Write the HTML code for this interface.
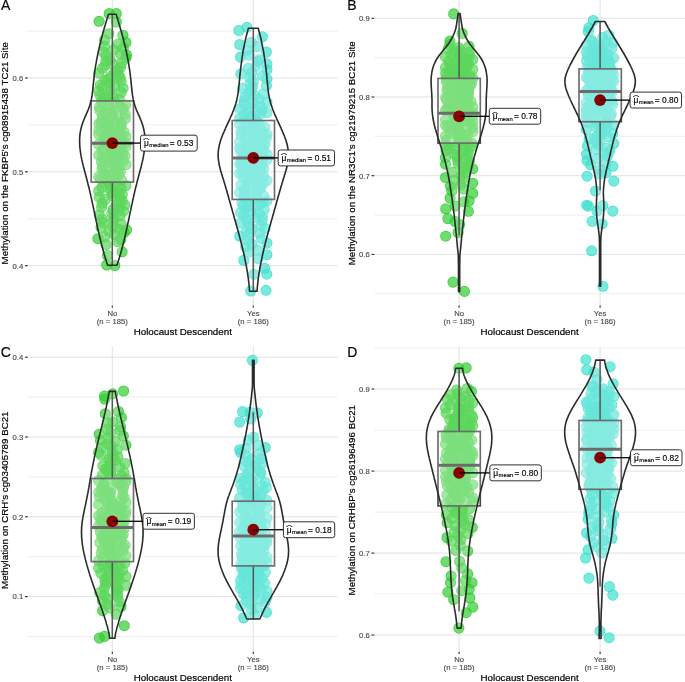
<!DOCTYPE html>
<html lang="en"><head><meta charset="utf-8"><title>Methylation by Holocaust Descendent</title>
<style>html,body{margin:0;padding:0;background:#fff}svg{display:block}</style></head>
<body>
<svg width="685" height="682" viewBox="0 0 685 682" font-family='"Liberation Sans", Arial, Helvetica, sans-serif'>
<rect width="685" height="682" fill="#fff"/>
<defs>
<radialGradient id="pg"><stop offset="0" stop-color="#32cd32" stop-opacity="0.7"/><stop offset="0.80" stop-color="#32cd32" stop-opacity="0.7"/><stop offset="0.86" stop-color="#32cd32" stop-opacity="0.9"/><stop offset="1" stop-color="#32cd32" stop-opacity="0.9"/></radialGradient>
<radialGradient id="pt"><stop offset="0" stop-color="#40e0d0" stop-opacity="0.7"/><stop offset="0.80" stop-color="#40e0d0" stop-opacity="0.7"/><stop offset="0.86" stop-color="#40e0d0" stop-opacity="0.9"/><stop offset="1" stop-color="#40e0d0" stop-opacity="0.9"/></radialGradient>
</defs>
<g id="panelA">
<g stroke="#e0e0e0" stroke-width="0.55" fill="none">
<path d="M27.8 31.1H337.7"/>
<path d="M27.8 124.9H337.7"/>
<path d="M27.8 218.8H337.7"/>
</g>
<g stroke="#dedede" stroke-width="0.9" fill="none">
<path d="M27.8 78H337.7"/>
<path d="M27.8 171.8H337.7"/>
<path d="M27.8 265.7H337.7"/>
<path d="M112.3 0V305.6"/>
<path d="M253.3 0V305.6"/>
</g>
<g stroke="#2a2a2a" stroke-width="1.1" fill="none">
<path d="M25 78H27.8"/>
<path d="M25 171.8H27.8"/>
<path d="M25 265.7H27.8"/>
<path d="M112.3 305.6V307.8"/>
<path d="M253.3 305.6V307.8"/>
</g>
<g font-size="7.7" fill="#454545" stroke="#454545" stroke-width="0.12">
<text x="23.2" y="80.8" text-anchor="end">0.6</text>
<text x="23.2" y="174.7" text-anchor="end">0.5</text>
<text x="23.2" y="268.5" text-anchor="end">0.4</text>
<text x="112.3" y="315.8" text-anchor="middle">No</text>
<text x="112.3" y="324" text-anchor="middle">(n = 185)</text>
<text x="253.3" y="315.8" text-anchor="middle">Yes</text>
<text x="253.3" y="324" text-anchor="middle">(n = 186)</text>
</g>
<g font-size="9.75" fill="#000" stroke="#000" stroke-width="0.2">
<text x="182.8" y="335.2" text-anchor="middle">Holocaust Descendent</text>
<text transform="translate(8 153.3) rotate(-90)" text-anchor="middle">Methylation on the FKBP5's cg08915438 TC21 Site</text>
</g>
<text x="0.9" y="10.2" font-size="14" fill="#000" stroke="#000" stroke-width="0.15">A</text>
<g fill="url(#pg)">
<circle cx="98.8" cy="73.2" r="5.55"/>
<circle cx="110.3" cy="90.3" r="5.55"/>
<circle cx="115.6" cy="168.4" r="5.55"/>
<circle cx="113.0" cy="226.3" r="5.55"/>
<circle cx="125.6" cy="142.9" r="5.55"/>
<circle cx="101.6" cy="207.2" r="5.55"/>
<circle cx="97.9" cy="238.7" r="5.55"/>
<circle cx="106.0" cy="135.5" r="5.55"/>
<circle cx="102.7" cy="166.1" r="5.55"/>
<circle cx="98.7" cy="155.2" r="5.55"/>
<circle cx="126.5" cy="229.9" r="5.55"/>
<circle cx="119.0" cy="202.1" r="5.55"/>
<circle cx="112.7" cy="154.3" r="5.55"/>
<circle cx="115.9" cy="183.1" r="5.55"/>
<circle cx="125.4" cy="118.4" r="5.55"/>
<circle cx="120.2" cy="215.5" r="5.55"/>
<circle cx="115.6" cy="121.3" r="5.55"/>
<circle cx="98.7" cy="144.4" r="5.55"/>
<circle cx="104.7" cy="40.2" r="5.55"/>
<circle cx="99.1" cy="123.5" r="5.55"/>
<circle cx="101.8" cy="101.6" r="5.55"/>
<circle cx="124.1" cy="232.6" r="5.55"/>
<circle cx="109.0" cy="100.0" r="5.55"/>
<circle cx="106.5" cy="127.6" r="5.55"/>
<circle cx="102.1" cy="203.3" r="5.55"/>
<circle cx="106.0" cy="55.8" r="5.55"/>
<circle cx="117.7" cy="241.6" r="5.55"/>
<circle cx="116.3" cy="22.0" r="5.55"/>
<circle cx="108.7" cy="176.2" r="5.55"/>
<circle cx="119.1" cy="99.3" r="5.55"/>
<circle cx="125.9" cy="146.9" r="5.55"/>
<circle cx="110.0" cy="59.5" r="5.55"/>
<circle cx="98.7" cy="190.8" r="5.55"/>
<circle cx="112.1" cy="117.8" r="5.55"/>
<circle cx="99.7" cy="110.4" r="5.55"/>
<circle cx="104.2" cy="148.3" r="5.55"/>
<circle cx="100.6" cy="178.7" r="5.55"/>
<circle cx="117.5" cy="170.2" r="5.55"/>
<circle cx="112.3" cy="114.9" r="5.55"/>
<circle cx="118.3" cy="158.7" r="5.55"/>
<circle cx="124.8" cy="205.0" r="5.55"/>
<circle cx="125.9" cy="58.0" r="5.55"/>
<circle cx="119.2" cy="229.4" r="5.55"/>
<circle cx="119.3" cy="167.4" r="5.55"/>
<circle cx="117.6" cy="69.8" r="5.55"/>
<circle cx="124.1" cy="132.2" r="5.55"/>
<circle cx="106.3" cy="159.1" r="5.55"/>
<circle cx="122.9" cy="35.2" r="5.55"/>
<circle cx="125.2" cy="114.2" r="5.55"/>
<circle cx="101.1" cy="227.4" r="5.55"/>
<circle cx="112.9" cy="163.5" r="5.55"/>
<circle cx="121.6" cy="63.0" r="5.55"/>
<circle cx="112.8" cy="156.8" r="5.55"/>
<circle cx="109.9" cy="109.5" r="5.55"/>
<circle cx="108.5" cy="119.6" r="5.55"/>
<circle cx="106.7" cy="265.0" r="5.55"/>
<circle cx="113.1" cy="209.6" r="5.55"/>
<circle cx="120.4" cy="171.8" r="5.55"/>
<circle cx="112.2" cy="147.5" r="5.55"/>
<circle cx="102.0" cy="169.2" r="5.55"/>
<circle cx="109.5" cy="184.2" r="5.55"/>
<circle cx="123.3" cy="47.9" r="5.55"/>
<circle cx="120.8" cy="239.6" r="5.55"/>
<circle cx="99.5" cy="107.1" r="5.55"/>
<circle cx="116.1" cy="177.8" r="5.55"/>
<circle cx="122.3" cy="200.8" r="5.55"/>
<circle cx="105.1" cy="142.3" r="5.55"/>
<circle cx="115.0" cy="150.3" r="5.55"/>
<circle cx="102.6" cy="120.3" r="5.55"/>
<circle cx="98.7" cy="91.0" r="5.55"/>
<circle cx="123.1" cy="88.2" r="5.55"/>
<circle cx="109.0" cy="94.3" r="5.55"/>
<circle cx="113.3" cy="220.8" r="5.55"/>
<circle cx="107.2" cy="125.0" r="5.55"/>
<circle cx="122.6" cy="153.4" r="5.55"/>
<circle cx="108.7" cy="104.3" r="5.55"/>
<circle cx="112.0" cy="152.8" r="5.55"/>
<circle cx="121.5" cy="180.2" r="5.55"/>
<circle cx="105.0" cy="199.6" r="5.55"/>
<circle cx="118.1" cy="192.4" r="5.55"/>
<circle cx="104.5" cy="46.0" r="5.55"/>
<circle cx="108.8" cy="145.9" r="5.55"/>
<circle cx="120.2" cy="77.6" r="5.55"/>
<circle cx="114.8" cy="265.5" r="5.55"/>
<circle cx="99.2" cy="214.8" r="5.55"/>
<circle cx="98.7" cy="134.3" r="5.55"/>
<circle cx="118.2" cy="44.1" r="5.55"/>
<circle cx="104.8" cy="112.7" r="5.55"/>
<circle cx="110.8" cy="76.3" r="5.55"/>
<circle cx="114.7" cy="71.8" r="5.55"/>
<circle cx="121.2" cy="188.5" r="5.55"/>
<circle cx="99.0" cy="130.2" r="5.55"/>
<circle cx="110.3" cy="190.0" r="5.55"/>
<circle cx="121.0" cy="223.7" r="5.55"/>
<circle cx="123.4" cy="160.5" r="5.55"/>
<circle cx="100.0" cy="95.3" r="5.55"/>
<circle cx="99.2" cy="197.2" r="5.55"/>
<circle cx="110.7" cy="126.9" r="5.55"/>
<circle cx="102.4" cy="68.3" r="5.55"/>
<circle cx="117.8" cy="151.8" r="5.55"/>
<circle cx="120.6" cy="67.3" r="5.55"/>
<circle cx="118.1" cy="116.9" r="5.55"/>
<circle cx="105.1" cy="80.2" r="5.55"/>
<circle cx="114.1" cy="143.7" r="5.55"/>
<circle cx="120.5" cy="53.9" r="5.55"/>
<circle cx="121.2" cy="81.3" r="5.55"/>
<circle cx="120.1" cy="145.5" r="5.55"/>
<circle cx="104.8" cy="236.9" r="5.55"/>
<circle cx="108.4" cy="79.0" r="5.55"/>
<circle cx="116.1" cy="131.0" r="5.55"/>
<circle cx="120.0" cy="134.9" r="5.55"/>
<circle cx="125.9" cy="42.4" r="5.55"/>
<circle cx="104.0" cy="182.4" r="5.55"/>
<circle cx="100.4" cy="84.8" r="5.55"/>
<circle cx="122.1" cy="251.8" r="5.55"/>
<circle cx="120.2" cy="106.4" r="5.55"/>
<circle cx="114.5" cy="234.4" r="5.55"/>
<circle cx="103.4" cy="52.0" r="5.55"/>
<circle cx="103.2" cy="222.5" r="5.55"/>
<circle cx="123.5" cy="211.2" r="5.55"/>
<circle cx="105.0" cy="65.3" r="5.55"/>
<circle cx="105.5" cy="173.7" r="5.55"/>
<circle cx="125.9" cy="185.5" r="5.55"/>
<circle cx="114.6" cy="165.7" r="5.55"/>
<circle cx="109.1" cy="231.3" r="5.55"/>
<circle cx="107.5" cy="255.5" r="5.55"/>
<circle cx="122.3" cy="194.3" r="5.55"/>
<circle cx="118.6" cy="174.8" r="5.55"/>
<circle cx="105.9" cy="61.0" r="5.55"/>
<circle cx="125.5" cy="105.0" r="5.55"/>
<circle cx="102.1" cy="187.5" r="5.55"/>
<circle cx="121.5" cy="123.9" r="5.55"/>
<circle cx="112.7" cy="96.9" r="5.55"/>
<circle cx="103.7" cy="138.1" r="5.55"/>
<circle cx="112.4" cy="63.7" r="5.55"/>
<circle cx="119.0" cy="163.0" r="5.55"/>
<circle cx="120.1" cy="197.9" r="5.55"/>
<circle cx="112.2" cy="112.0" r="5.55"/>
<circle cx="115.7" cy="102.8" r="5.55"/>
<circle cx="120.9" cy="138.8" r="5.55"/>
<circle cx="109.2" cy="180.9" r="5.55"/>
<circle cx="110.0" cy="82.9" r="5.55"/>
<circle cx="99.1" cy="21.3" r="5.55"/>
<circle cx="113.1" cy="172.8" r="5.55"/>
<circle cx="121.3" cy="149.6" r="5.55"/>
<circle cx="102.4" cy="115.9" r="5.55"/>
<circle cx="105.8" cy="170.8" r="5.55"/>
<circle cx="102.3" cy="157.8" r="5.55"/>
<circle cx="118.6" cy="75.1" r="5.55"/>
<circle cx="116.3" cy="13.6" r="5.55"/>
<circle cx="109.2" cy="13.6" r="5.55"/>
<circle cx="112.3" cy="192.8" r="5.55"/>
<circle cx="126.5" cy="55.0" r="5.55"/>
<circle cx="115.8" cy="205.7" r="5.55"/>
<circle cx="101.4" cy="162.1" r="5.55"/>
<circle cx="123.2" cy="108.5" r="5.55"/>
<circle cx="121.1" cy="92.5" r="5.55"/>
<circle cx="125.9" cy="136.7" r="5.55"/>
<circle cx="98.7" cy="176.9" r="5.55"/>
<circle cx="108.0" cy="131.7" r="5.55"/>
<circle cx="119.3" cy="208.4" r="5.55"/>
<circle cx="106.0" cy="244.5" r="5.55"/>
<circle cx="111.6" cy="160.8" r="5.55"/>
<circle cx="121.3" cy="141.0" r="5.55"/>
<circle cx="114.1" cy="217.6" r="5.55"/>
<circle cx="102.0" cy="150.9" r="5.55"/>
<circle cx="125.0" cy="155.9" r="5.55"/>
<circle cx="120.4" cy="128.1" r="5.55"/>
<circle cx="111.9" cy="213.4" r="5.55"/>
<circle cx="110.7" cy="137.4" r="5.55"/>
<circle cx="108.9" cy="33.7" r="5.55"/>
<circle cx="112.1" cy="195.6" r="5.55"/>
<circle cx="102.2" cy="87.2" r="5.55"/>
<circle cx="103.3" cy="98.0" r="5.55"/>
<circle cx="120.4" cy="125.7" r="5.55"/>
<circle cx="113.6" cy="49.9" r="5.55"/>
<circle cx="114.6" cy="85.7" r="5.55"/>
<circle cx="106.5" cy="139.7" r="5.55"/>
<circle cx="125.9" cy="164.5" r="5.55"/>
<circle cx="112.7" cy="133.1" r="5.55"/>
<circle cx="105.3" cy="140.4" r="5.55"/>
<circle cx="102.2" cy="219.0" r="5.55"/>
<circle cx="113.3" cy="186.5" r="5.55"/>
<circle cx="101.3" cy="122.1" r="5.55"/>
<circle cx="109.7" cy="129.4" r="5.55"/>
</g>
<g stroke="#484848" stroke-width="1.65" fill="none">
<path d="M112.3 14.2V100.9M112.3 182.1V265.3" stroke="#303030" stroke-width="1.55"/>
<rect x="91.2" y="100.9" width="42.3" height="81.2" fill="#fff" fill-opacity="0.2"/>
<path d="M91.2 143.2H133.4" stroke-width="3.0"/>
</g>
<path d="M108.5 14.2 L108.0 15.7 L107.6 17.2 L107.1 18.7 L106.6 20.2 L106.2 21.7 L105.7 23.2 L105.3 24.7 L104.8 26.2 L104.4 27.7 L104.0 29.2 L103.5 30.7 L103.1 32.2 L102.7 33.7 L102.3 35.2 L101.9 36.7 L101.5 38.2 L101.1 39.7 L100.8 41.2 L100.4 42.7 L100.0 44.2 L99.7 45.7 L99.3 47.2 L99.0 48.7 L98.6 50.2 L98.3 51.7 L98.0 53.2 L97.7 54.7 L97.4 56.2 L97.1 57.7 L96.8 59.2 L96.5 60.7 L96.3 62.2 L96.0 63.7 L95.7 65.2 L95.5 66.7 L95.3 68.2 L95.0 69.7 L94.8 71.2 L94.6 72.7 L94.4 74.2 L94.2 75.7 L94.1 77.2 L93.9 78.7 L93.7 80.2 L93.6 81.7 L93.4 83.2 L93.3 84.7 L93.1 86.2 L93.0 87.7 L92.8 89.2 L92.7 90.7 L92.5 92.2 L92.3 93.7 L92.1 95.2 L91.8 96.7 L91.6 98.2 L91.3 99.7 L90.9 101.2 L90.5 102.7 L90.1 104.2 L89.7 105.7 L89.1 107.2 L88.6 108.7 L88.0 110.2 L87.4 111.7 L86.7 113.2 L86.1 114.7 L85.4 116.2 L84.7 117.7 L84.1 119.2 L83.5 120.7 L82.9 122.2 L82.4 123.7 L81.9 125.2 L81.5 126.7 L81.1 128.2 L80.7 129.7 L80.5 131.2 L80.2 132.7 L80.0 134.2 L79.9 135.7 L79.7 137.2 L79.7 138.7 L79.6 140.2 L79.6 141.7 L79.7 143.2 L79.7 144.7 L79.8 146.2 L79.9 147.7 L80.1 149.2 L80.3 150.7 L80.5 152.2 L80.7 153.7 L81.0 155.2 L81.2 156.7 L81.5 158.2 L81.8 159.7 L82.2 161.2 L82.5 162.7 L82.9 164.2 L83.2 165.7 L83.6 167.2 L84.0 168.7 L84.4 170.2 L84.8 171.7 L85.2 173.2 L85.6 174.7 L86.0 176.2 L86.4 177.7 L86.8 179.2 L87.2 180.7 L87.6 182.2 L87.9 183.7 L88.3 185.2 L88.7 186.7 L89.1 188.2 L89.4 189.7 L89.8 191.2 L90.1 192.7 L90.5 194.2 L90.8 195.7 L91.1 197.2 L91.5 198.7 L91.8 200.2 L92.1 201.7 L92.4 203.2 L92.8 204.7 L93.1 206.2 L93.4 207.7 L93.7 209.2 L94.0 210.7 L94.4 212.2 L94.7 213.7 L95.0 215.2 L95.3 216.7 L95.6 218.2 L95.9 219.7 L96.2 221.2 L96.6 222.7 L96.9 224.2 L97.2 225.7 L97.5 227.2 L97.9 228.7 L98.2 230.2 L98.5 231.7 L98.9 233.2 L99.2 234.7 L99.6 236.2 L99.9 237.7 L100.3 239.2 L100.6 240.7 L101.0 242.2 L101.4 243.7 L101.8 245.2 L102.2 246.7 L102.6 248.2 L103.0 249.7 L103.4 251.2 L103.8 252.7 L104.2 254.2 L104.7 255.7 L105.1 257.2 L105.6 258.7 L106.0 260.2 L106.5 261.7 L107.0 263.2 L107.5 264.7 L107.7 265.3 L116.9 265.3 L117.1 264.7 L117.6 263.2 L118.1 261.7 L118.6 260.2 L119.0 258.7 L119.5 257.2 L119.9 255.7 L120.4 254.2 L120.8 252.7 L121.2 251.2 L121.6 249.7 L122.0 248.2 L122.4 246.7 L122.8 245.2 L123.2 243.7 L123.6 242.2 L124.0 240.7 L124.3 239.2 L124.7 237.7 L125.0 236.2 L125.4 234.7 L125.7 233.2 L126.1 231.7 L126.4 230.2 L126.7 228.7 L127.1 227.2 L127.4 225.7 L127.7 224.2 L128.0 222.7 L128.4 221.2 L128.7 219.7 L129.0 218.2 L129.3 216.7 L129.6 215.2 L129.9 213.7 L130.2 212.2 L130.6 210.7 L130.9 209.2 L131.2 207.7 L131.5 206.2 L131.8 204.7 L132.2 203.2 L132.5 201.7 L132.8 200.2 L133.1 198.7 L133.5 197.2 L133.8 195.7 L134.1 194.2 L134.5 192.7 L134.8 191.2 L135.2 189.7 L135.5 188.2 L135.9 186.7 L136.3 185.2 L136.7 183.7 L137.0 182.2 L137.4 180.7 L137.8 179.2 L138.2 177.7 L138.6 176.2 L139.0 174.7 L139.4 173.2 L139.8 171.7 L140.2 170.2 L140.6 168.7 L141.0 167.2 L141.4 165.7 L141.7 164.2 L142.1 162.7 L142.4 161.2 L142.8 159.7 L143.1 158.2 L143.4 156.7 L143.6 155.2 L143.9 153.7 L144.1 152.2 L144.3 150.7 L144.5 149.2 L144.7 147.7 L144.8 146.2 L144.9 144.7 L144.9 143.2 L145.0 141.7 L145.0 140.2 L144.9 138.7 L144.9 137.2 L144.7 135.7 L144.6 134.2 L144.4 132.7 L144.1 131.2 L143.9 129.7 L143.5 128.2 L143.1 126.7 L142.7 125.2 L142.2 123.7 L141.7 122.2 L141.1 120.7 L140.5 119.2 L139.9 117.7 L139.2 116.2 L138.5 114.7 L137.9 113.2 L137.2 111.7 L136.6 110.2 L136.0 108.7 L135.5 107.2 L134.9 105.7 L134.5 104.2 L134.1 102.7 L133.7 101.2 L133.3 99.7 L133.0 98.2 L132.8 96.7 L132.5 95.2 L132.3 93.7 L132.1 92.2 L131.9 90.7 L131.8 89.2 L131.6 87.7 L131.5 86.2 L131.3 84.7 L131.2 83.2 L131.0 81.7 L130.9 80.2 L130.7 78.7 L130.5 77.2 L130.4 75.7 L130.2 74.2 L130.0 72.7 L129.8 71.2 L129.6 69.7 L129.3 68.2 L129.1 66.7 L128.9 65.2 L128.6 63.7 L128.3 62.2 L128.1 60.7 L127.8 59.2 L127.5 57.7 L127.2 56.2 L126.9 54.7 L126.6 53.2 L126.3 51.7 L126.0 50.2 L125.6 48.7 L125.3 47.2 L124.9 45.7 L124.6 44.2 L124.2 42.7 L123.8 41.2 L123.5 39.7 L123.1 38.2 L122.7 36.7 L122.3 35.2 L121.9 33.7 L121.5 32.2 L121.1 30.7 L120.6 29.2 L120.2 27.7 L119.8 26.2 L119.3 24.7 L118.9 23.2 L118.4 21.7 L118.0 20.2 L117.5 18.7 L117.0 17.2 L116.6 15.7 L116.1 14.2 Z" fill="#fff" fill-opacity="0.2" stroke="#2b2b2b" stroke-width="1.6" stroke-linejoin="round"/>
<circle cx="112.3" cy="143.1" r="5.9" fill="#8b0000"/>
<path d="M112.3 143.1H140.5" stroke="#000" stroke-width="1.3" fill="none"/>
<rect x="140.5" y="135.2" width="56.7" height="15.9" rx="2.2" fill="#fff" stroke="#262626" stroke-width="0.95"/>
<text x="143.9" y="146.1" font-size="8.4" fill="#000" stroke="#000" stroke-width="0.15">μ<tspan font-size="5.9" dx="0.4" dy="1.2">median</tspan><tspan dx="-1" dy="-1.2"> = 0.53</tspan></text>
<text transform="translate(146.3 142.3) scale(2.15 0.8)" font-size="7" fill="#000" text-anchor="middle">^</text>
<g fill="url(#pt)">
<circle cx="260.1" cy="124.7" r="5.55"/>
<circle cx="244.4" cy="194.2" r="5.55"/>
<circle cx="266.4" cy="138.3" r="5.55"/>
<circle cx="256.9" cy="46.5" r="5.55"/>
<circle cx="250.2" cy="83.8" r="5.55"/>
<circle cx="239.7" cy="142.0" r="5.55"/>
<circle cx="260.8" cy="187.9" r="5.55"/>
<circle cx="257.6" cy="61.4" r="5.55"/>
<circle cx="248.8" cy="252.0" r="5.55"/>
<circle cx="263.7" cy="168.4" r="5.55"/>
<circle cx="248.6" cy="111.7" r="5.55"/>
<circle cx="251.7" cy="72.8" r="5.55"/>
<circle cx="239.7" cy="163.8" r="5.55"/>
<circle cx="254.7" cy="96.1" r="5.55"/>
<circle cx="261.0" cy="166.0" r="5.55"/>
<circle cx="252.8" cy="170.4" r="5.55"/>
<circle cx="255.3" cy="116.3" r="5.55"/>
<circle cx="251.0" cy="196.7" r="5.55"/>
<circle cx="259.8" cy="129.5" r="5.55"/>
<circle cx="255.1" cy="143.8" r="5.55"/>
<circle cx="254.4" cy="207.4" r="5.55"/>
<circle cx="259.2" cy="59.8" r="5.55"/>
<circle cx="251.6" cy="174.8" r="5.55"/>
<circle cx="266.9" cy="243.1" r="5.55"/>
<circle cx="263.6" cy="183.0" r="5.55"/>
<circle cx="245.9" cy="146.0" r="5.55"/>
<circle cx="240.6" cy="212.5" r="5.55"/>
<circle cx="259.5" cy="233.5" r="5.55"/>
<circle cx="241.9" cy="171.6" r="5.55"/>
<circle cx="260.4" cy="156.1" r="5.55"/>
<circle cx="249.6" cy="137.4" r="5.55"/>
<circle cx="266.9" cy="63.9" r="5.55"/>
<circle cx="263.2" cy="132.0" r="5.55"/>
<circle cx="249.8" cy="154.9" r="5.55"/>
<circle cx="257.9" cy="250.1" r="5.55"/>
<circle cx="263.6" cy="176.2" r="5.55"/>
<circle cx="265.0" cy="228.4" r="5.55"/>
<circle cx="251.8" cy="244.2" r="5.55"/>
<circle cx="253.8" cy="122.6" r="5.55"/>
<circle cx="266.8" cy="274.2" r="5.55"/>
<circle cx="266.9" cy="254.7" r="5.55"/>
<circle cx="246.3" cy="231.5" r="5.55"/>
<circle cx="239.7" cy="123.9" r="5.55"/>
<circle cx="240.9" cy="73.8" r="5.55"/>
<circle cx="257.2" cy="121.9" r="5.55"/>
<circle cx="255.1" cy="217.5" r="5.55"/>
<circle cx="262.1" cy="162.3" r="5.55"/>
<circle cx="246.6" cy="120.6" r="5.55"/>
<circle cx="238.9" cy="30.5" r="5.55"/>
<circle cx="266.9" cy="102.2" r="5.55"/>
<circle cx="248.9" cy="205.1" r="5.55"/>
<circle cx="259.8" cy="152.7" r="5.55"/>
<circle cx="247.0" cy="221.5" r="5.55"/>
<circle cx="252.6" cy="86.7" r="5.55"/>
<circle cx="253.7" cy="166.5" r="5.55"/>
<circle cx="266.9" cy="112.6" r="5.55"/>
<circle cx="257.6" cy="186.1" r="5.55"/>
<circle cx="247.7" cy="117.9" r="5.55"/>
<circle cx="250.0" cy="226.4" r="5.55"/>
<circle cx="247.3" cy="235.3" r="5.55"/>
<circle cx="243.1" cy="167.2" r="5.55"/>
<circle cx="266.9" cy="200.8" r="5.55"/>
<circle cx="244.3" cy="100.7" r="5.55"/>
<circle cx="252.4" cy="173.1" r="5.55"/>
<circle cx="266.9" cy="180.3" r="5.55"/>
<circle cx="258.9" cy="213.5" r="5.55"/>
<circle cx="252.1" cy="229.2" r="5.55"/>
<circle cx="244.0" cy="115.0" r="5.55"/>
<circle cx="239.7" cy="44.5" r="5.55"/>
<circle cx="239.7" cy="236.1" r="5.55"/>
<circle cx="261.8" cy="179.0" r="5.55"/>
<circle cx="259.3" cy="188.7" r="5.55"/>
<circle cx="255.0" cy="127.5" r="5.55"/>
<circle cx="251.4" cy="42.3" r="5.55"/>
<circle cx="248.6" cy="186.6" r="5.55"/>
<circle cx="258.8" cy="99.0" r="5.55"/>
<circle cx="253.4" cy="81.5" r="5.55"/>
<circle cx="247.5" cy="240.4" r="5.55"/>
<circle cx="260.2" cy="113.8" r="5.55"/>
<circle cx="257.8" cy="151.1" r="5.55"/>
<circle cx="246.9" cy="50.3" r="5.55"/>
<circle cx="263.9" cy="150.3" r="5.55"/>
<circle cx="243.2" cy="128.8" r="5.55"/>
<circle cx="266.0" cy="290.3" r="5.55"/>
<circle cx="252.0" cy="141.1" r="5.55"/>
<circle cx="240.7" cy="151.6" r="5.55"/>
<circle cx="248.1" cy="68.3" r="5.55"/>
<circle cx="261.9" cy="110.3" r="5.55"/>
<circle cx="255.8" cy="134.9" r="5.55"/>
<circle cx="263.1" cy="202.2" r="5.55"/>
<circle cx="266.9" cy="69.7" r="5.55"/>
<circle cx="240.6" cy="223.0" r="5.55"/>
<circle cx="248.5" cy="125.7" r="5.55"/>
<circle cx="266.4" cy="52.1" r="5.55"/>
<circle cx="254.6" cy="176.8" r="5.55"/>
<circle cx="264.6" cy="268.3" r="5.55"/>
<circle cx="247.0" cy="27.3" r="5.55"/>
<circle cx="261.2" cy="225.3" r="5.55"/>
<circle cx="266.9" cy="134.2" r="5.55"/>
<circle cx="250.9" cy="210.9" r="5.55"/>
<circle cx="262.4" cy="36.8" r="5.55"/>
<circle cx="259.9" cy="149.1" r="5.55"/>
<circle cx="240.8" cy="131.6" r="5.55"/>
<circle cx="263.2" cy="94.0" r="5.55"/>
<circle cx="266.7" cy="159.9" r="5.55"/>
<circle cx="246.7" cy="182.3" r="5.55"/>
<circle cx="250.8" cy="107.7" r="5.55"/>
<circle cx="263.6" cy="195.9" r="5.55"/>
<circle cx="242.6" cy="88.4" r="5.55"/>
<circle cx="249.6" cy="179.4" r="5.55"/>
<circle cx="264.2" cy="209.7" r="5.55"/>
<circle cx="256.1" cy="66.1" r="5.55"/>
<circle cx="239.7" cy="148.2" r="5.55"/>
<circle cx="243.4" cy="177.9" r="5.55"/>
<circle cx="243.1" cy="157.5" r="5.55"/>
<circle cx="255.3" cy="138.8" r="5.55"/>
<circle cx="239.7" cy="173.5" r="5.55"/>
<circle cx="266.9" cy="154.0" r="5.55"/>
<circle cx="249.9" cy="77.6" r="5.55"/>
<circle cx="260.8" cy="169.6" r="5.55"/>
<circle cx="261.3" cy="140.7" r="5.55"/>
<circle cx="247.4" cy="147.5" r="5.55"/>
<circle cx="249.2" cy="175.2" r="5.55"/>
<circle cx="239.7" cy="118.3" r="5.55"/>
<circle cx="242.0" cy="203.0" r="5.55"/>
<circle cx="247.6" cy="184.1" r="5.55"/>
<circle cx="243.2" cy="155.6" r="5.55"/>
<circle cx="241.7" cy="161.3" r="5.55"/>
<circle cx="244.4" cy="189.8" r="5.55"/>
<circle cx="264.5" cy="136.6" r="5.55"/>
<circle cx="257.2" cy="181.5" r="5.55"/>
<circle cx="246.4" cy="219.2" r="5.55"/>
<circle cx="257.2" cy="198.8" r="5.55"/>
<circle cx="257.5" cy="142.6" r="5.55"/>
<circle cx="253.6" cy="156.7" r="5.55"/>
<circle cx="239.7" cy="192.7" r="5.55"/>
<circle cx="257.8" cy="172.0" r="5.55"/>
<circle cx="257.2" cy="190.5" r="5.55"/>
<circle cx="241.1" cy="184.9" r="5.55"/>
<circle cx="239.7" cy="108.7" r="5.55"/>
<circle cx="262.2" cy="220.5" r="5.55"/>
<circle cx="248.9" cy="92.6" r="5.55"/>
<circle cx="256.6" cy="193.4" r="5.55"/>
<circle cx="248.0" cy="169.1" r="5.55"/>
<circle cx="258.0" cy="258.7" r="5.55"/>
<circle cx="243.6" cy="215.3" r="5.55"/>
<circle cx="240.5" cy="57.1" r="5.55"/>
<circle cx="241.3" cy="135.4" r="5.55"/>
<circle cx="247.4" cy="163.0" r="5.55"/>
<circle cx="244.4" cy="104.6" r="5.55"/>
<circle cx="246.1" cy="140.0" r="5.55"/>
<circle cx="243.8" cy="260.4" r="5.55"/>
<circle cx="266.9" cy="79.2" r="5.55"/>
<circle cx="262.4" cy="216.8" r="5.55"/>
<circle cx="261.6" cy="238.7" r="5.55"/>
<circle cx="253.2" cy="133.4" r="5.55"/>
<circle cx="264.7" cy="127.0" r="5.55"/>
<circle cx="243.0" cy="159.1" r="5.55"/>
<circle cx="245.4" cy="191.7" r="5.55"/>
<circle cx="251.3" cy="90.4" r="5.55"/>
<circle cx="253.6" cy="103.3" r="5.55"/>
<circle cx="247.5" cy="149.7" r="5.55"/>
<circle cx="266.4" cy="85.5" r="5.55"/>
<circle cx="245.0" cy="97.4" r="5.55"/>
<circle cx="241.7" cy="164.9" r="5.55"/>
<circle cx="253.6" cy="274.2" r="5.55"/>
<circle cx="264.8" cy="144.6" r="5.55"/>
<circle cx="246.2" cy="130.4" r="5.55"/>
<circle cx="255.3" cy="119.5" r="5.55"/>
<circle cx="249.2" cy="55.2" r="5.55"/>
<circle cx="245.7" cy="246.8" r="5.55"/>
<circle cx="262.5" cy="75.7" r="5.55"/>
<circle cx="253.9" cy="145.4" r="5.55"/>
<circle cx="255.4" cy="164.3" r="5.55"/>
<circle cx="247.6" cy="153.4" r="5.55"/>
<circle cx="253.2" cy="160.9" r="5.55"/>
<circle cx="248.8" cy="199.6" r="5.55"/>
<circle cx="244.2" cy="197.4" r="5.55"/>
<circle cx="262.2" cy="158.3" r="5.55"/>
<circle cx="250.7" cy="291.0" r="5.55"/>
<circle cx="260.4" cy="204.0" r="5.55"/>
<circle cx="260.4" cy="106.2" r="5.55"/>
<circle cx="246.0" cy="208.6" r="5.55"/>
<circle cx="263.2" cy="146.7" r="5.55"/>
<circle cx="243.4" cy="206.1" r="5.55"/>
</g>
<g stroke="#484848" stroke-width="1.65" fill="none">
<path d="M253.3 28.3V120.5M253.3 199.4V291.3" stroke="#303030" stroke-width="1.55"/>
<rect x="232.2" y="120.5" width="42.3" height="78.9" fill="#fff" fill-opacity="0.2"/>
<path d="M232.2 157.9H274.4" stroke-width="3.0"/>
</g>
<path d="M248.4 28.3 L248.0 29.8 L247.6 31.3 L247.2 32.8 L246.8 34.3 L246.4 35.8 L246.0 37.3 L245.7 38.8 L245.3 40.3 L245.0 41.8 L244.7 43.3 L244.4 44.8 L244.1 46.3 L243.8 47.8 L243.5 49.3 L243.2 50.8 L242.9 52.3 L242.7 53.8 L242.5 55.3 L242.2 56.8 L242.0 58.3 L241.8 59.8 L241.6 61.3 L241.4 62.8 L241.2 64.3 L241.0 65.8 L240.8 67.3 L240.6 68.8 L240.5 70.3 L240.3 71.8 L240.1 73.3 L240.0 74.8 L239.8 76.3 L239.7 77.8 L239.6 79.3 L239.4 80.8 L239.3 82.3 L239.1 83.8 L239.0 85.3 L238.8 86.8 L238.7 88.3 L238.5 89.8 L238.3 91.3 L238.1 92.8 L237.9 94.3 L237.6 95.8 L237.3 97.3 L237.0 98.8 L236.7 100.3 L236.3 101.8 L235.9 103.3 L235.4 104.8 L234.9 106.3 L234.4 107.8 L233.9 109.3 L233.3 110.8 L232.7 112.3 L232.1 113.8 L231.4 115.3 L230.7 116.8 L230.1 118.3 L229.4 119.8 L228.7 121.3 L228.0 122.8 L227.3 124.3 L226.6 125.8 L225.9 127.3 L225.3 128.8 L224.6 130.3 L224.0 131.8 L223.3 133.3 L222.7 134.8 L222.1 136.3 L221.6 137.8 L221.0 139.3 L220.5 140.8 L220.1 142.3 L219.7 143.8 L219.3 145.3 L219.0 146.8 L218.7 148.3 L218.5 149.8 L218.3 151.3 L218.2 152.8 L218.1 154.3 L218.1 155.8 L218.2 157.3 L218.3 158.8 L218.5 160.3 L218.7 161.8 L219.0 163.3 L219.2 164.8 L219.6 166.3 L219.9 167.8 L220.3 169.3 L220.7 170.8 L221.2 172.3 L221.6 173.8 L222.1 175.3 L222.5 176.8 L223.0 178.3 L223.5 179.8 L223.9 181.3 L224.4 182.8 L224.8 184.3 L225.3 185.8 L225.7 187.3 L226.1 188.8 L226.6 190.3 L227.0 191.8 L227.4 193.3 L227.9 194.8 L228.3 196.3 L228.7 197.8 L229.1 199.3 L229.6 200.8 L230.0 202.3 L230.4 203.8 L230.8 205.3 L231.2 206.8 L231.7 208.3 L232.1 209.8 L232.5 211.3 L232.9 212.8 L233.4 214.3 L233.8 215.8 L234.2 217.3 L234.6 218.8 L235.1 220.3 L235.5 221.8 L235.9 223.3 L236.3 224.8 L236.7 226.3 L237.2 227.8 L237.6 229.3 L238.0 230.8 L238.4 232.3 L238.8 233.8 L239.2 235.3 L239.6 236.8 L240.0 238.3 L240.4 239.8 L240.8 241.3 L241.2 242.8 L241.5 244.3 L241.9 245.8 L242.3 247.3 L242.6 248.8 L243.0 250.3 L243.3 251.8 L243.7 253.3 L244.0 254.8 L244.4 256.3 L244.7 257.8 L245.0 259.3 L245.3 260.8 L245.6 262.3 L245.9 263.8 L246.2 265.3 L246.5 266.8 L246.7 268.3 L247.0 269.8 L247.2 271.3 L247.5 272.8 L247.7 274.3 L247.9 275.8 L248.2 277.3 L248.4 278.8 L248.5 280.3 L248.7 281.8 L248.9 283.3 L249.0 284.8 L249.2 286.3 L249.3 287.8 L249.4 289.3 L249.5 290.8 L249.6 291.3 L257.0 291.3 L257.1 290.8 L257.2 289.3 L257.3 287.8 L257.4 286.3 L257.6 284.8 L257.7 283.3 L257.9 281.8 L258.1 280.3 L258.2 278.8 L258.4 277.3 L258.7 275.8 L258.9 274.3 L259.1 272.8 L259.4 271.3 L259.6 269.8 L259.9 268.3 L260.1 266.8 L260.4 265.3 L260.7 263.8 L261.0 262.3 L261.3 260.8 L261.6 259.3 L261.9 257.8 L262.2 256.3 L262.6 254.8 L262.9 253.3 L263.3 251.8 L263.6 250.3 L264.0 248.8 L264.3 247.3 L264.7 245.8 L265.1 244.3 L265.4 242.8 L265.8 241.3 L266.2 239.8 L266.6 238.3 L267.0 236.8 L267.4 235.3 L267.8 233.8 L268.2 232.3 L268.6 230.8 L269.0 229.3 L269.4 227.8 L269.9 226.3 L270.3 224.8 L270.7 223.3 L271.1 221.8 L271.5 220.3 L272.0 218.8 L272.4 217.3 L272.8 215.8 L273.2 214.3 L273.7 212.8 L274.1 211.3 L274.5 209.8 L274.9 208.3 L275.4 206.8 L275.8 205.3 L276.2 203.8 L276.6 202.3 L277.0 200.8 L277.5 199.3 L277.9 197.8 L278.3 196.3 L278.7 194.8 L279.2 193.3 L279.6 191.8 L280.0 190.3 L280.5 188.8 L280.9 187.3 L281.3 185.8 L281.8 184.3 L282.2 182.8 L282.7 181.3 L283.1 179.8 L283.6 178.3 L284.1 176.8 L284.5 175.3 L285.0 173.8 L285.4 172.3 L285.9 170.8 L286.3 169.3 L286.7 167.8 L287.0 166.3 L287.4 164.8 L287.6 163.3 L287.9 161.8 L288.1 160.3 L288.3 158.8 L288.4 157.3 L288.5 155.8 L288.5 154.3 L288.4 152.8 L288.3 151.3 L288.1 149.8 L287.9 148.3 L287.6 146.8 L287.3 145.3 L286.9 143.8 L286.5 142.3 L286.1 140.8 L285.6 139.3 L285.0 137.8 L284.5 136.3 L283.9 134.8 L283.3 133.3 L282.6 131.8 L282.0 130.3 L281.3 128.8 L280.7 127.3 L280.0 125.8 L279.3 124.3 L278.6 122.8 L277.9 121.3 L277.2 119.8 L276.5 118.3 L275.9 116.8 L275.2 115.3 L274.5 113.8 L273.9 112.3 L273.3 110.8 L272.7 109.3 L272.2 107.8 L271.7 106.3 L271.2 104.8 L270.7 103.3 L270.3 101.8 L269.9 100.3 L269.6 98.8 L269.3 97.3 L269.0 95.8 L268.7 94.3 L268.5 92.8 L268.3 91.3 L268.1 89.8 L267.9 88.3 L267.8 86.8 L267.6 85.3 L267.5 83.8 L267.3 82.3 L267.2 80.8 L267.0 79.3 L266.9 77.8 L266.8 76.3 L266.6 74.8 L266.5 73.3 L266.3 71.8 L266.1 70.3 L266.0 68.8 L265.8 67.3 L265.6 65.8 L265.4 64.3 L265.2 62.8 L265.0 61.3 L264.8 59.8 L264.6 58.3 L264.4 56.8 L264.1 55.3 L263.9 53.8 L263.7 52.3 L263.4 50.8 L263.1 49.3 L262.8 47.8 L262.5 46.3 L262.2 44.8 L261.9 43.3 L261.6 41.8 L261.3 40.3 L260.9 38.8 L260.6 37.3 L260.2 35.8 L259.8 34.3 L259.4 32.8 L259.0 31.3 L258.6 29.8 L258.2 28.3 Z" fill="#fff" fill-opacity="0.2" stroke="#2b2b2b" stroke-width="1.6" stroke-linejoin="round"/>
<circle cx="253.3" cy="157.9" r="5.9" fill="#8b0000"/>
<path d="M253.3 157.9H278.2" stroke="#000" stroke-width="1.3" fill="none"/>
<rect x="278.2" y="150" width="56.3" height="15.9" rx="2.2" fill="#fff" stroke="#262626" stroke-width="0.95"/>
<text x="281.6" y="160.9" font-size="8.4" fill="#000" stroke="#000" stroke-width="0.15">μ<tspan font-size="5.9" dx="0.4" dy="1.2">median</tspan><tspan dx="-1" dy="-1.2"> = 0.51</tspan></text>
<text transform="translate(284 157.1) scale(2.15 0.8)" font-size="7" fill="#000" text-anchor="middle">^</text>
</g>
<g id="panelB">
<g stroke="#e0e0e0" stroke-width="0.55" fill="none">
<path d="M374.3 57.6H685"/>
<path d="M374.3 136.3H685"/>
<path d="M374.3 215H685"/>
<path d="M374.3 293.7H685"/>
</g>
<g stroke="#dedede" stroke-width="0.9" fill="none">
<path d="M374.3 18.3H685"/>
<path d="M374.3 97H685"/>
<path d="M374.3 175.7H685"/>
<path d="M374.3 254.4H685"/>
<path d="M459.1 0V305.6"/>
<path d="M600.1 0V305.6"/>
</g>
<g stroke="#2a2a2a" stroke-width="1.1" fill="none">
<path d="M371.5 18.3H374.3"/>
<path d="M371.5 97H374.3"/>
<path d="M371.5 175.7H374.3"/>
<path d="M371.5 254.4H374.3"/>
<path d="M459.1 305.6V307.8"/>
<path d="M600.1 305.6V307.8"/>
</g>
<g font-size="7.7" fill="#454545" stroke="#454545" stroke-width="0.12">
<text x="369.7" y="21.1" text-anchor="end">0.9</text>
<text x="369.7" y="99.8" text-anchor="end">0.8</text>
<text x="369.7" y="178.5" text-anchor="end">0.7</text>
<text x="369.7" y="257.2" text-anchor="end">0.6</text>
<text x="459.1" y="315.8" text-anchor="middle">No</text>
<text x="459.1" y="324" text-anchor="middle">(n = 185)</text>
<text x="600.1" y="315.8" text-anchor="middle">Yes</text>
<text x="600.1" y="324" text-anchor="middle">(n = 186)</text>
</g>
<g font-size="9.75" fill="#000" stroke="#000" stroke-width="0.2">
<text x="529.6" y="335.2" text-anchor="middle">Holocaust Descendent</text>
<text transform="translate(355.4 153.3) rotate(-90)" text-anchor="middle">Methylation on the NR3C1's cg21979215 BC21 Site</text>
</g>
<text x="347.2" y="10.2" font-size="14" fill="#000" stroke="#000" stroke-width="0.15">B</text>
<g fill="url(#pg)">
<circle cx="470.0" cy="80.6" r="5.55"/>
<circle cx="470.2" cy="85.7" r="5.55"/>
<circle cx="457.7" cy="102.8" r="5.55"/>
<circle cx="470.8" cy="124.2" r="5.55"/>
<circle cx="458.6" cy="102.0" r="5.55"/>
<circle cx="469.1" cy="52.2" r="5.55"/>
<circle cx="465.2" cy="114.5" r="5.55"/>
<circle cx="456.4" cy="125.0" r="5.55"/>
<circle cx="472.7" cy="122.0" r="5.55"/>
<circle cx="472.7" cy="127.7" r="5.55"/>
<circle cx="464.8" cy="149.4" r="5.55"/>
<circle cx="471.5" cy="146.4" r="5.55"/>
<circle cx="452.7" cy="113.9" r="5.55"/>
<circle cx="451.6" cy="54.3" r="5.55"/>
<circle cx="465.0" cy="73.7" r="5.55"/>
<circle cx="447.1" cy="90.6" r="5.55"/>
<circle cx="467.9" cy="97.8" r="5.55"/>
<circle cx="464.6" cy="71.6" r="5.55"/>
<circle cx="445.5" cy="57.2" r="5.55"/>
<circle cx="472.7" cy="107.0" r="5.55"/>
<circle cx="464.0" cy="201.7" r="5.55"/>
<circle cx="446.2" cy="76.4" r="5.55"/>
<circle cx="471.3" cy="83.6" r="5.55"/>
<circle cx="451.9" cy="106.4" r="5.55"/>
<circle cx="462.8" cy="64.2" r="5.55"/>
<circle cx="465.4" cy="120.5" r="5.55"/>
<circle cx="460.9" cy="153.2" r="5.55"/>
<circle cx="454.6" cy="115.3" r="5.55"/>
<circle cx="469.2" cy="161.3" r="5.55"/>
<circle cx="457.7" cy="160.1" r="5.55"/>
<circle cx="456.8" cy="59.0" r="5.55"/>
<circle cx="464.6" cy="68.1" r="5.55"/>
<circle cx="461.2" cy="76.8" r="5.55"/>
<circle cx="445.5" cy="67.4" r="5.55"/>
<circle cx="464.4" cy="291.4" r="5.55"/>
<circle cx="449.8" cy="133.4" r="5.55"/>
<circle cx="472.7" cy="116.1" r="5.55"/>
<circle cx="472.7" cy="131.6" r="5.55"/>
<circle cx="456.8" cy="113.0" r="5.55"/>
<circle cx="458.8" cy="126.4" r="5.55"/>
<circle cx="446.1" cy="150.6" r="5.55"/>
<circle cx="450.0" cy="44.3" r="5.55"/>
<circle cx="462.8" cy="167.4" r="5.55"/>
<circle cx="460.0" cy="56.3" r="5.55"/>
<circle cx="445.5" cy="157.7" r="5.55"/>
<circle cx="455.8" cy="128.5" r="5.55"/>
<circle cx="450.0" cy="41.0" r="5.55"/>
<circle cx="466.5" cy="100.1" r="5.55"/>
<circle cx="466.5" cy="58.3" r="5.55"/>
<circle cx="448.9" cy="61.6" r="5.55"/>
<circle cx="468.8" cy="118.2" r="5.55"/>
<circle cx="468.5" cy="63.9" r="5.55"/>
<circle cx="461.1" cy="122.6" r="5.55"/>
<circle cx="467.5" cy="134.5" r="5.55"/>
<circle cx="450.1" cy="198.1" r="5.55"/>
<circle cx="459.6" cy="53.6" r="5.55"/>
<circle cx="468.1" cy="94.6" r="5.55"/>
<circle cx="455.6" cy="119.1" r="5.55"/>
<circle cx="449.8" cy="87.1" r="5.55"/>
<circle cx="472.7" cy="168.8" r="5.55"/>
<circle cx="459.6" cy="50.2" r="5.55"/>
<circle cx="453.7" cy="13.9" r="5.55"/>
<circle cx="466.5" cy="130.3" r="5.55"/>
<circle cx="458.2" cy="98.6" r="5.55"/>
<circle cx="460.5" cy="132.5" r="5.55"/>
<circle cx="457.4" cy="135.2" r="5.55"/>
<circle cx="453.3" cy="85.2" r="5.55"/>
<circle cx="466.3" cy="141.7" r="5.55"/>
<circle cx="445.8" cy="97.3" r="5.55"/>
<circle cx="454.5" cy="154.2" r="5.55"/>
<circle cx="460.4" cy="70.4" r="5.55"/>
<circle cx="447.6" cy="88.3" r="5.55"/>
<circle cx="447.3" cy="108.5" r="5.55"/>
<circle cx="448.3" cy="105.1" r="5.55"/>
<circle cx="464.1" cy="116.9" r="5.55"/>
<circle cx="458.0" cy="74.3" r="5.55"/>
<circle cx="451.6" cy="77.7" r="5.55"/>
<circle cx="451.8" cy="190.8" r="5.55"/>
<circle cx="467.7" cy="91.1" r="5.55"/>
<circle cx="462.1" cy="82.3" r="5.55"/>
<circle cx="452.4" cy="172.3" r="5.55"/>
<circle cx="459.5" cy="89.7" r="5.55"/>
<circle cx="463.9" cy="110.9" r="5.55"/>
<circle cx="446.2" cy="81.7" r="5.55"/>
<circle cx="445.6" cy="73.0" r="5.55"/>
<circle cx="458.1" cy="163.3" r="5.55"/>
<circle cx="469.0" cy="46.4" r="5.55"/>
<circle cx="446.7" cy="79.6" r="5.55"/>
<circle cx="445.5" cy="110.2" r="5.55"/>
<circle cx="452.7" cy="123.5" r="5.55"/>
<circle cx="459.0" cy="107.5" r="5.55"/>
<circle cx="445.7" cy="208.8" r="5.55"/>
<circle cx="463.8" cy="189.0" r="5.55"/>
<circle cx="450.2" cy="65.0" r="5.55"/>
<circle cx="472.7" cy="193.4" r="5.55"/>
<circle cx="453.5" cy="92.0" r="5.55"/>
<circle cx="459.8" cy="95.0" r="5.55"/>
<circle cx="461.2" cy="175.9" r="5.55"/>
<circle cx="468.4" cy="151.9" r="5.55"/>
<circle cx="467.5" cy="155.2" r="5.55"/>
<circle cx="462.3" cy="79.2" r="5.55"/>
<circle cx="465.0" cy="169.9" r="5.55"/>
<circle cx="446.6" cy="145.3" r="5.55"/>
<circle cx="445.5" cy="125.3" r="5.55"/>
<circle cx="467.0" cy="159.4" r="5.55"/>
<circle cx="452.7" cy="83.2" r="5.55"/>
<circle cx="456.0" cy="147.5" r="5.55"/>
<circle cx="469.5" cy="75.2" r="5.55"/>
<circle cx="472.7" cy="78.5" r="5.55"/>
<circle cx="457.9" cy="142.5" r="5.55"/>
<circle cx="459.7" cy="86.6" r="5.55"/>
<circle cx="456.9" cy="68.7" r="5.55"/>
<circle cx="458.2" cy="62.8" r="5.55"/>
<circle cx="455.2" cy="221.5" r="5.55"/>
<circle cx="461.4" cy="81.2" r="5.55"/>
<circle cx="454.3" cy="104.1" r="5.55"/>
<circle cx="464.5" cy="96.4" r="5.55"/>
<circle cx="462.0" cy="84.5" r="5.55"/>
<circle cx="454.4" cy="51.7" r="5.55"/>
<circle cx="467.8" cy="166.2" r="5.55"/>
<circle cx="472.0" cy="143.1" r="5.55"/>
<circle cx="455.2" cy="206.1" r="5.55"/>
<circle cx="465.6" cy="61.9" r="5.55"/>
<circle cx="452.2" cy="111.9" r="5.55"/>
<circle cx="445.5" cy="164.2" r="5.55"/>
<circle cx="468.7" cy="92.7" r="5.55"/>
<circle cx="463.0" cy="178.6" r="5.55"/>
<circle cx="445.5" cy="136.1" r="5.55"/>
<circle cx="459.5" cy="131.3" r="5.55"/>
<circle cx="464.6" cy="138.6" r="5.55"/>
<circle cx="447.6" cy="126.9" r="5.55"/>
<circle cx="467.4" cy="108.9" r="5.55"/>
<circle cx="459.6" cy="224.5" r="5.55"/>
<circle cx="453.0" cy="282.1" r="5.55"/>
<circle cx="467.5" cy="65.8" r="5.55"/>
<circle cx="449.9" cy="95.9" r="5.55"/>
<circle cx="446.2" cy="140.5" r="5.55"/>
<circle cx="447.9" cy="218.6" r="5.55"/>
<circle cx="450.4" cy="186.2" r="5.55"/>
<circle cx="454.8" cy="117.2" r="5.55"/>
<circle cx="455.2" cy="120.8" r="5.55"/>
<circle cx="467.0" cy="103.3" r="5.55"/>
<circle cx="445.5" cy="177.5" r="5.55"/>
<circle cx="465.4" cy="93.0" r="5.55"/>
<circle cx="451.7" cy="129.5" r="5.55"/>
<circle cx="458.1" cy="232.5" r="5.55"/>
<circle cx="463.2" cy="137.1" r="5.55"/>
<circle cx="446.2" cy="99.3" r="5.55"/>
<circle cx="469.6" cy="55.7" r="5.55"/>
<circle cx="457.0" cy="156.7" r="5.55"/>
<circle cx="469.1" cy="201.0" r="5.55"/>
<circle cx="468.4" cy="211.3" r="5.55"/>
<circle cx="462.1" cy="33.4" r="5.55"/>
<circle cx="449.3" cy="148.8" r="5.55"/>
<circle cx="470.9" cy="101.6" r="5.55"/>
<circle cx="464.5" cy="87.7" r="5.55"/>
<circle cx="468.6" cy="89.3" r="5.55"/>
<circle cx="460.9" cy="184.7" r="5.55"/>
<circle cx="457.7" cy="137.9" r="5.55"/>
<circle cx="472.7" cy="69.3" r="5.55"/>
<circle cx="454.1" cy="180.3" r="5.55"/>
<circle cx="457.9" cy="72.1" r="5.55"/>
<circle cx="464.1" cy="144.3" r="5.55"/>
<circle cx="454.7" cy="75.6" r="5.55"/>
<circle cx="458.8" cy="109.9" r="5.55"/>
<circle cx="472.7" cy="59.5" r="5.55"/>
<circle cx="452.6" cy="94.1" r="5.55"/>
<circle cx="445.5" cy="119.6" r="5.55"/>
<circle cx="459.1" cy="100.9" r="5.55"/>
<circle cx="472.7" cy="112.5" r="5.55"/>
<circle cx="449.7" cy="71.0" r="5.55"/>
<circle cx="472.7" cy="183.2" r="5.55"/>
<circle cx="465.7" cy="105.4" r="5.55"/>
<circle cx="453.0" cy="66.4" r="5.55"/>
<circle cx="460.1" cy="139.4" r="5.55"/>
<circle cx="464.7" cy="173.1" r="5.55"/>
<circle cx="463.9" cy="60.4" r="5.55"/>
<circle cx="458.8" cy="47.5" r="5.55"/>
<circle cx="448.2" cy="48.9" r="5.55"/>
<circle cx="445.7" cy="236.2" r="5.55"/>
</g>
<g stroke="#484848" stroke-width="1.65" fill="none">
<path d="M459.1 13.5V78.4M459.1 143.1V235.5" stroke="#303030" stroke-width="1.55"/>
<rect x="438" y="78.4" width="42.3" height="64.7" fill="#fff" fill-opacity="0.2"/>
<path d="M438 113.3H480.2" stroke-width="3.0"/>
</g>
<path d="M458.1 13.5 L457.9 15.0 L457.7 16.5 L457.5 18.0 L457.3 19.5 L457.1 21.0 L456.8 22.5 L456.6 24.0 L456.4 25.5 L456.1 27.0 L455.8 28.5 L455.4 30.0 L454.8 31.5 L454.3 33.0 L453.7 34.5 L453.0 36.0 L452.3 37.5 L451.5 39.0 L450.6 40.5 L449.7 42.0 L448.7 43.5 L447.6 45.0 L446.4 46.5 L445.2 48.0 L443.9 49.5 L442.7 51.0 L441.5 52.5 L440.3 54.0 L439.1 55.5 L438.1 57.0 L437.1 58.5 L436.2 60.0 L435.4 61.5 L434.7 63.0 L434.1 64.5 L433.5 66.0 L433.0 67.5 L432.6 69.0 L432.2 70.5 L431.9 72.0 L431.7 73.5 L431.5 75.0 L431.3 76.5 L431.2 78.0 L431.1 79.5 L431.1 81.0 L431.1 82.5 L431.2 84.0 L431.2 85.5 L431.3 87.0 L431.4 88.5 L431.5 90.0 L431.6 91.5 L431.7 93.0 L431.8 94.5 L431.8 96.0 L431.9 97.5 L432.0 99.0 L432.0 100.5 L432.0 102.0 L432.0 103.5 L432.0 105.0 L432.0 106.5 L432.0 108.0 L432.1 109.5 L432.1 111.0 L432.3 112.5 L432.4 114.0 L432.6 115.5 L432.8 117.0 L433.0 118.5 L433.3 120.0 L433.6 121.5 L433.9 123.0 L434.3 124.5 L434.6 126.0 L435.0 127.5 L435.4 129.0 L435.9 130.5 L436.3 132.0 L436.7 133.5 L437.2 135.0 L437.6 136.5 L438.1 138.0 L438.6 139.5 L439.1 141.0 L439.6 142.5 L440.0 144.0 L440.5 145.5 L441.0 147.0 L441.5 148.5 L441.9 150.0 L442.4 151.5 L442.8 153.0 L443.3 154.5 L443.7 156.0 L444.1 157.5 L444.5 159.0 L444.9 160.5 L445.3 162.0 L445.7 163.5 L446.0 165.0 L446.4 166.5 L446.7 168.0 L447.0 169.5 L447.4 171.0 L447.7 172.5 L448.0 174.0 L448.3 175.5 L448.6 177.0 L448.8 178.5 L449.1 180.0 L449.4 181.5 L449.6 183.0 L449.9 184.5 L450.1 186.0 L450.4 187.5 L450.6 189.0 L450.9 190.5 L451.1 192.0 L451.3 193.5 L451.5 195.0 L451.7 196.5 L452.0 198.0 L452.2 199.5 L452.4 201.0 L452.6 202.5 L452.8 204.0 L453.0 205.5 L453.2 207.0 L453.4 208.5 L453.5 210.0 L453.7 211.5 L453.9 213.0 L454.1 214.5 L454.3 216.0 L454.4 217.5 L454.6 219.0 L454.8 220.5 L454.9 222.0 L455.1 223.5 L455.2 225.0 L455.4 226.5 L455.6 228.0 L455.7 229.5 L455.9 231.0 L456.0 232.5 L456.2 234.0 L456.4 235.5 L456.5 237.0 L456.7 238.5 L456.8 240.0 L456.9 241.5 L457.1 243.0 L457.2 244.5 L457.3 246.0 L457.5 247.5 L457.6 249.0 L457.8 250.5 L458.0 252.0 L458.1 253.5 L458.3 255.0 L458.3 256.5 L458.4 258.0 L458.4 259.5 L458.4 261.0 L458.4 262.5 L458.5 264.0 L458.5 265.5 L458.5 267.0 L458.5 268.5 L458.5 270.0 L458.5 271.5 L458.5 273.0 L458.5 274.5 L458.5 276.0 L458.5 277.5 L458.5 279.0 L458.5 280.5 L458.5 282.0 L458.5 283.5 L458.5 285.0 L458.5 286.5 L458.5 288.0 L458.5 289.5 L458.5 291.0 L458.5 291.6 L459.7 291.6 L459.7 291.0 L459.7 289.5 L459.7 288.0 L459.7 286.5 L459.7 285.0 L459.7 283.5 L459.7 282.0 L459.7 280.5 L459.7 279.0 L459.7 277.5 L459.7 276.0 L459.7 274.5 L459.7 273.0 L459.7 271.5 L459.7 270.0 L459.7 268.5 L459.7 267.0 L459.7 265.5 L459.7 264.0 L459.8 262.5 L459.8 261.0 L459.8 259.5 L459.8 258.0 L459.9 256.5 L459.9 255.0 L460.1 253.5 L460.2 252.0 L460.4 250.5 L460.6 249.0 L460.7 247.5 L460.9 246.0 L461.0 244.5 L461.1 243.0 L461.3 241.5 L461.4 240.0 L461.5 238.5 L461.7 237.0 L461.8 235.5 L462.0 234.0 L462.2 232.5 L462.3 231.0 L462.5 229.5 L462.6 228.0 L462.8 226.5 L463.0 225.0 L463.1 223.5 L463.3 222.0 L463.4 220.5 L463.6 219.0 L463.8 217.5 L463.9 216.0 L464.1 214.5 L464.3 213.0 L464.5 211.5 L464.7 210.0 L464.8 208.5 L465.0 207.0 L465.2 205.5 L465.4 204.0 L465.6 202.5 L465.8 201.0 L466.0 199.5 L466.2 198.0 L466.5 196.5 L466.7 195.0 L466.9 193.5 L467.1 192.0 L467.3 190.5 L467.6 189.0 L467.8 187.5 L468.1 186.0 L468.3 184.5 L468.6 183.0 L468.8 181.5 L469.1 180.0 L469.4 178.5 L469.6 177.0 L469.9 175.5 L470.2 174.0 L470.5 172.5 L470.8 171.0 L471.2 169.5 L471.5 168.0 L471.8 166.5 L472.2 165.0 L472.5 163.5 L472.9 162.0 L473.3 160.5 L473.7 159.0 L474.1 157.5 L474.5 156.0 L474.9 154.5 L475.4 153.0 L475.8 151.5 L476.3 150.0 L476.7 148.5 L477.2 147.0 L477.7 145.5 L478.2 144.0 L478.6 142.5 L479.1 141.0 L479.6 139.5 L480.1 138.0 L480.6 136.5 L481.0 135.0 L481.5 133.5 L481.9 132.0 L482.3 130.5 L482.8 129.0 L483.2 127.5 L483.6 126.0 L483.9 124.5 L484.3 123.0 L484.6 121.5 L484.9 120.0 L485.2 118.5 L485.4 117.0 L485.6 115.5 L485.8 114.0 L485.9 112.5 L486.1 111.0 L486.1 109.5 L486.2 108.0 L486.2 106.5 L486.2 105.0 L486.2 103.5 L486.2 102.0 L486.2 100.5 L486.2 99.0 L486.3 97.5 L486.4 96.0 L486.4 94.5 L486.5 93.0 L486.6 91.5 L486.7 90.0 L486.8 88.5 L486.9 87.0 L487.0 85.5 L487.0 84.0 L487.1 82.5 L487.1 81.0 L487.1 79.5 L487.0 78.0 L486.9 76.5 L486.7 75.0 L486.5 73.5 L486.3 72.0 L486.0 70.5 L485.6 69.0 L485.2 67.5 L484.7 66.0 L484.1 64.5 L483.5 63.0 L482.8 61.5 L482.0 60.0 L481.1 58.5 L480.1 57.0 L479.1 55.5 L477.9 54.0 L476.7 52.5 L475.5 51.0 L474.3 49.5 L473.0 48.0 L471.8 46.5 L470.6 45.0 L469.5 43.5 L468.5 42.0 L467.6 40.5 L466.7 39.0 L465.9 37.5 L465.2 36.0 L464.5 34.5 L463.9 33.0 L463.4 31.5 L462.8 30.0 L462.4 28.5 L462.1 27.0 L461.8 25.5 L461.6 24.0 L461.4 22.5 L461.1 21.0 L460.9 19.5 L460.7 18.0 L460.5 16.5 L460.3 15.0 L460.1 13.5 Z" fill="#fff" fill-opacity="0.2" stroke="#2b2b2b" stroke-width="1.6" stroke-linejoin="round"/>
<circle cx="459.1" cy="116.3" r="5.9" fill="#8b0000"/>
<path d="M459.1 116.3H489.3" stroke="#000" stroke-width="1.3" fill="none"/>
<rect x="489.3" y="108.3" width="51.4" height="15.9" rx="2.2" fill="#fff" stroke="#262626" stroke-width="0.95"/>
<text x="492.7" y="119.3" font-size="8.4" fill="#000" stroke="#000" stroke-width="0.15">μ<tspan font-size="5.9" dx="0.4" dy="1.2">mean</tspan><tspan dx="-1" dy="-1.2"> = 0.78</tspan></text>
<text transform="translate(495.1 115.5) scale(2.15 0.8)" font-size="7" fill="#000" text-anchor="middle">^</text>
<g fill="url(#pt)">
<circle cx="606.8" cy="148.3" r="5.55"/>
<circle cx="590.5" cy="59.1" r="5.55"/>
<circle cx="602.8" cy="205.6" r="5.55"/>
<circle cx="587.5" cy="145.9" r="5.55"/>
<circle cx="593.7" cy="119.1" r="5.55"/>
<circle cx="593.9" cy="94.3" r="5.55"/>
<circle cx="587.1" cy="160.7" r="5.55"/>
<circle cx="589.2" cy="138.9" r="5.55"/>
<circle cx="602.6" cy="88.6" r="5.55"/>
<circle cx="595.5" cy="44.5" r="5.55"/>
<circle cx="596.7" cy="54.9" r="5.55"/>
<circle cx="593.5" cy="70.0" r="5.55"/>
<circle cx="612.7" cy="104.4" r="5.55"/>
<circle cx="601.9" cy="111.9" r="5.55"/>
<circle cx="598.9" cy="75.1" r="5.55"/>
<circle cx="586.7" cy="90.5" r="5.55"/>
<circle cx="609.7" cy="84.2" r="5.55"/>
<circle cx="600.2" cy="169.2" r="5.55"/>
<circle cx="606.4" cy="118.5" r="5.55"/>
<circle cx="606.9" cy="69.5" r="5.55"/>
<circle cx="601.6" cy="134.4" r="5.55"/>
<circle cx="611.1" cy="72.1" r="5.55"/>
<circle cx="592.1" cy="96.0" r="5.55"/>
<circle cx="602.4" cy="45.9" r="5.55"/>
<circle cx="596.1" cy="109.0" r="5.55"/>
<circle cx="613.7" cy="124.8" r="5.55"/>
<circle cx="586.5" cy="52.0" r="5.55"/>
<circle cx="595.5" cy="191.0" r="5.55"/>
<circle cx="612.8" cy="211.1" r="5.55"/>
<circle cx="612.2" cy="70.6" r="5.55"/>
<circle cx="605.0" cy="71.0" r="5.55"/>
<circle cx="608.7" cy="35.2" r="5.55"/>
<circle cx="607.9" cy="66.5" r="5.55"/>
<circle cx="610.3" cy="67.8" r="5.55"/>
<circle cx="606.4" cy="41.5" r="5.55"/>
<circle cx="597.0" cy="108.6" r="5.55"/>
<circle cx="613.7" cy="57.8" r="5.55"/>
<circle cx="588.9" cy="27.9" r="5.55"/>
<circle cx="586.5" cy="107.9" r="5.55"/>
<circle cx="602.4" cy="50.3" r="5.55"/>
<circle cx="612.6" cy="43.2" r="5.55"/>
<circle cx="600.8" cy="48.9" r="5.55"/>
<circle cx="600.1" cy="87.3" r="5.55"/>
<circle cx="593.9" cy="62.4" r="5.55"/>
<circle cx="604.0" cy="104.9" r="5.55"/>
<circle cx="609.4" cy="61.9" r="5.55"/>
<circle cx="587.4" cy="122.1" r="5.55"/>
<circle cx="608.1" cy="95.5" r="5.55"/>
<circle cx="599.8" cy="72.5" r="5.55"/>
<circle cx="600.9" cy="65.5" r="5.55"/>
<circle cx="586.5" cy="111.1" r="5.55"/>
<circle cx="590.1" cy="97.8" r="5.55"/>
<circle cx="603.9" cy="92.7" r="5.55"/>
<circle cx="593.5" cy="86.4" r="5.55"/>
<circle cx="601.5" cy="125.6" r="5.55"/>
<circle cx="586.5" cy="129.7" r="5.55"/>
<circle cx="592.1" cy="41.9" r="5.55"/>
<circle cx="590.3" cy="68.9" r="5.55"/>
<circle cx="597.1" cy="158.5" r="5.55"/>
<circle cx="594.9" cy="137.8" r="5.55"/>
<circle cx="600.0" cy="174.0" r="5.55"/>
<circle cx="591.3" cy="83.9" r="5.55"/>
<circle cx="604.0" cy="152.7" r="5.55"/>
<circle cx="594.9" cy="99.0" r="5.55"/>
<circle cx="606.1" cy="103.3" r="5.55"/>
<circle cx="599.9" cy="51.5" r="5.55"/>
<circle cx="609.5" cy="86.9" r="5.55"/>
<circle cx="599.8" cy="107.2" r="5.55"/>
<circle cx="598.6" cy="57.0" r="5.55"/>
<circle cx="587.1" cy="176.2" r="5.55"/>
<circle cx="609.4" cy="93.8" r="5.55"/>
<circle cx="607.7" cy="110.0" r="5.55"/>
<circle cx="594.5" cy="64.2" r="5.55"/>
<circle cx="612.7" cy="133.5" r="5.55"/>
<circle cx="613.5" cy="74.8" r="5.55"/>
<circle cx="602.0" cy="89.9" r="5.55"/>
<circle cx="609.2" cy="64.7" r="5.55"/>
<circle cx="600.5" cy="76.2" r="5.55"/>
<circle cx="605.8" cy="85.5" r="5.55"/>
<circle cx="605.6" cy="162.8" r="5.55"/>
<circle cx="609.8" cy="62.9" r="5.55"/>
<circle cx="610.6" cy="115.9" r="5.55"/>
<circle cx="593.2" cy="53.6" r="5.55"/>
<circle cx="589.2" cy="73.1" r="5.55"/>
<circle cx="608.1" cy="96.5" r="5.55"/>
<circle cx="605.9" cy="121.2" r="5.55"/>
<circle cx="591.7" cy="79.7" r="5.55"/>
<circle cx="604.6" cy="68.2" r="5.55"/>
<circle cx="602.8" cy="63.5" r="5.55"/>
<circle cx="595.1" cy="83.3" r="5.55"/>
<circle cx="602.8" cy="52.9" r="5.55"/>
<circle cx="602.1" cy="223.8" r="5.55"/>
<circle cx="606.2" cy="77.9" r="5.55"/>
<circle cx="600.2" cy="141.2" r="5.55"/>
<circle cx="602.8" cy="37.4" r="5.55"/>
<circle cx="598.5" cy="73.6" r="5.55"/>
<circle cx="610.0" cy="92.1" r="5.55"/>
<circle cx="595.9" cy="149.9" r="5.55"/>
<circle cx="593.3" cy="20.5" r="5.55"/>
<circle cx="613.7" cy="143.5" r="5.55"/>
<circle cx="586.5" cy="77.4" r="5.55"/>
<circle cx="612.1" cy="78.9" r="5.55"/>
<circle cx="590.6" cy="164.9" r="5.55"/>
<circle cx="607.7" cy="82.8" r="5.55"/>
<circle cx="588.4" cy="71.7" r="5.55"/>
<circle cx="586.5" cy="117.6" r="5.55"/>
<circle cx="592.4" cy="100.9" r="5.55"/>
<circle cx="596.8" cy="141.9" r="5.55"/>
<circle cx="611.8" cy="48.0" r="5.55"/>
<circle cx="594.7" cy="47.0" r="5.55"/>
<circle cx="605.2" cy="89.4" r="5.55"/>
<circle cx="595.3" cy="91.5" r="5.55"/>
<circle cx="586.7" cy="205.2" r="5.55"/>
<circle cx="588.5" cy="89.0" r="5.55"/>
<circle cx="587.8" cy="66.1" r="5.55"/>
<circle cx="597.2" cy="103.7" r="5.55"/>
<circle cx="597.5" cy="66.9" r="5.55"/>
<circle cx="602.2" cy="128.9" r="5.55"/>
<circle cx="600.6" cy="132.0" r="5.55"/>
<circle cx="586.5" cy="60.9" r="5.55"/>
<circle cx="612.9" cy="166.3" r="5.55"/>
<circle cx="591.6" cy="250.8" r="5.55"/>
<circle cx="603.1" cy="97.3" r="5.55"/>
<circle cx="588.4" cy="206.2" r="5.55"/>
<circle cx="603.1" cy="98.3" r="5.55"/>
<circle cx="594.5" cy="74.3" r="5.55"/>
<circle cx="613.8" cy="181.0" r="5.55"/>
<circle cx="595.5" cy="126.7" r="5.55"/>
<circle cx="592.0" cy="112.7" r="5.55"/>
<circle cx="607.2" cy="56.3" r="5.55"/>
<circle cx="597.0" cy="124.1" r="5.55"/>
<circle cx="604.1" cy="86.0" r="5.55"/>
<circle cx="607.4" cy="155.9" r="5.55"/>
<circle cx="609.7" cy="150.7" r="5.55"/>
<circle cx="607.5" cy="122.6" r="5.55"/>
<circle cx="587.7" cy="78.5" r="5.55"/>
<circle cx="612.3" cy="91.0" r="5.55"/>
<circle cx="588.4" cy="31.5" r="5.55"/>
<circle cx="607.8" cy="54.1" r="5.55"/>
<circle cx="586.5" cy="154.3" r="5.55"/>
<circle cx="592.2" cy="49.6" r="5.55"/>
<circle cx="603.0" cy="114.2" r="5.55"/>
<circle cx="596.9" cy="211.1" r="5.55"/>
<circle cx="591.1" cy="75.6" r="5.55"/>
<circle cx="593.8" cy="80.6" r="5.55"/>
<circle cx="600.3" cy="58.4" r="5.55"/>
<circle cx="594.4" cy="116.8" r="5.55"/>
<circle cx="612.3" cy="101.4" r="5.55"/>
<circle cx="598.5" cy="110.8" r="5.55"/>
<circle cx="592.1" cy="84.8" r="5.55"/>
<circle cx="613.7" cy="81.4" r="5.55"/>
<circle cx="611.2" cy="113.6" r="5.55"/>
<circle cx="610.6" cy="99.6" r="5.55"/>
<circle cx="608.8" cy="136.8" r="5.55"/>
<circle cx="599.0" cy="79.4" r="5.55"/>
<circle cx="599.2" cy="76.8" r="5.55"/>
<circle cx="588.9" cy="105.7" r="5.55"/>
<circle cx="600.6" cy="102.0" r="5.55"/>
<circle cx="604.5" cy="106.2" r="5.55"/>
<circle cx="600.7" cy="60.2" r="5.55"/>
<circle cx="586.5" cy="102.4" r="5.55"/>
<circle cx="606.2" cy="120.3" r="5.55"/>
<circle cx="588.3" cy="94.9" r="5.55"/>
<circle cx="604.2" cy="130.8" r="5.55"/>
<circle cx="602.9" cy="286.3" r="5.55"/>
<circle cx="596.5" cy="93.2" r="5.55"/>
<circle cx="606.0" cy="172.5" r="5.55"/>
<circle cx="587.4" cy="55.5" r="5.55"/>
<circle cx="591.6" cy="40.2" r="5.55"/>
<circle cx="606.9" cy="60.0" r="5.55"/>
<circle cx="586.5" cy="115.2" r="5.55"/>
<circle cx="603.3" cy="80.3" r="5.55"/>
<circle cx="598.1" cy="144.7" r="5.55"/>
<circle cx="603.4" cy="100.3" r="5.55"/>
<circle cx="589.6" cy="82.2" r="5.55"/>
<circle cx="610.8" cy="88.1" r="5.55"/>
<circle cx="592.2" cy="221.3" r="5.55"/>
<circle cx="599.6" cy="81.7" r="5.55"/>
<circle cx="597.6" cy="135.2" r="5.55"/>
<circle cx="607.0" cy="127.8" r="5.55"/>
<circle cx="586.5" cy="45.3" r="5.55"/>
</g>
<g stroke="#484848" stroke-width="1.65" fill="none">
<path d="M600.1 21.7V68.9M600.1 121.7V190.2" stroke="#303030" stroke-width="1.55"/>
<rect x="579" y="68.9" width="42.3" height="52.8" fill="#fff" fill-opacity="0.2"/>
<path d="M579 91.6H621.2" stroke-width="3.0"/>
</g>
<path d="M595.4 21.5 L594.6 23.0 L593.8 24.5 L593.0 26.0 L592.2 27.5 L591.3 29.0 L590.4 30.5 L589.6 32.0 L588.7 33.5 L587.8 35.0 L586.8 36.5 L585.9 38.0 L585.0 39.5 L584.1 41.0 L583.1 42.5 L582.2 44.0 L581.3 45.5 L580.4 47.0 L579.4 48.5 L578.5 50.0 L577.6 51.5 L576.7 53.0 L575.8 54.5 L575.0 56.0 L574.1 57.5 L573.3 59.0 L572.5 60.5 L571.7 62.0 L570.9 63.5 L570.1 65.0 L569.4 66.5 L568.7 68.0 L568.0 69.5 L567.4 71.0 L566.8 72.5 L566.2 74.0 L565.8 75.5 L565.4 77.0 L565.1 78.5 L564.9 80.0 L564.9 81.5 L564.9 83.0 L565.1 84.5 L565.4 86.0 L565.7 87.5 L566.1 89.0 L566.6 90.5 L567.1 92.0 L567.7 93.5 L568.3 95.0 L568.9 96.5 L569.6 98.0 L570.2 99.5 L570.9 101.0 L571.6 102.5 L572.3 104.0 L573.0 105.5 L573.7 107.0 L574.5 108.5 L575.2 110.0 L575.9 111.5 L576.6 113.0 L577.4 114.5 L578.1 116.0 L578.7 117.5 L579.4 119.0 L580.1 120.5 L580.7 122.0 L581.3 123.5 L581.9 125.0 L582.4 126.5 L583.0 128.0 L583.5 129.5 L584.0 131.0 L584.4 132.5 L584.9 134.0 L585.4 135.5 L585.8 137.0 L586.2 138.5 L586.6 140.0 L587.0 141.5 L587.4 143.0 L587.8 144.5 L588.1 146.0 L588.5 147.5 L588.8 149.0 L589.2 150.5 L589.5 152.0 L589.9 153.5 L590.2 155.0 L590.6 156.5 L590.9 158.0 L591.3 159.5 L591.7 161.0 L592.0 162.5 L592.4 164.0 L592.7 165.5 L593.1 167.0 L593.4 168.5 L593.8 170.0 L594.1 171.5 L594.4 173.0 L594.7 174.5 L595.0 176.0 L595.3 177.5 L595.6 179.0 L595.8 180.5 L596.0 182.0 L596.2 183.5 L596.3 185.0 L596.5 186.5 L596.6 188.0 L596.7 189.5 L596.8 191.0 L596.9 192.5 L596.8 194.0 L596.8 195.5 L596.7 197.0 L596.6 198.5 L596.6 200.0 L596.5 201.5 L596.4 203.0 L596.4 204.5 L596.3 206.0 L596.3 207.5 L596.4 209.0 L596.4 210.5 L596.5 212.0 L596.6 213.5 L596.7 215.0 L596.8 216.5 L596.9 218.0 L597.1 219.5 L597.3 221.0 L597.4 222.5 L597.6 224.0 L597.9 225.5 L598.1 227.0 L598.3 228.5 L598.5 230.0 L598.7 231.5 L598.9 233.0 L599.1 234.5 L599.2 236.0 L599.3 237.5 L599.4 239.0 L599.4 240.5 L599.5 242.0 L599.5 243.5 L599.5 245.0 L599.5 246.5 L599.5 248.0 L599.5 249.5 L599.5 251.0 L599.5 252.5 L599.5 254.0 L599.5 255.5 L599.5 257.0 L599.5 258.5 L599.5 260.0 L599.5 261.5 L599.5 263.0 L599.5 264.5 L599.5 266.0 L599.5 267.5 L599.5 269.0 L599.5 270.5 L599.5 272.0 L599.5 273.5 L599.5 275.0 L599.5 276.5 L599.5 278.0 L599.5 279.5 L599.5 281.0 L599.5 282.5 L599.5 284.0 L599.5 285.5 L599.5 286.3 L600.7 286.3 L600.7 285.5 L600.7 284.0 L600.7 282.5 L600.7 281.0 L600.7 279.5 L600.7 278.0 L600.7 276.5 L600.7 275.0 L600.7 273.5 L600.7 272.0 L600.7 270.5 L600.7 269.0 L600.7 267.5 L600.7 266.0 L600.7 264.5 L600.7 263.0 L600.7 261.5 L600.7 260.0 L600.7 258.5 L600.7 257.0 L600.7 255.5 L600.7 254.0 L600.7 252.5 L600.7 251.0 L600.7 249.5 L600.7 248.0 L600.7 246.5 L600.7 245.0 L600.7 243.5 L600.7 242.0 L600.8 240.5 L600.8 239.0 L600.9 237.5 L601.0 236.0 L601.1 234.5 L601.3 233.0 L601.5 231.5 L601.7 230.0 L601.9 228.5 L602.1 227.0 L602.3 225.5 L602.6 224.0 L602.8 222.5 L602.9 221.0 L603.1 219.5 L603.3 218.0 L603.4 216.5 L603.5 215.0 L603.6 213.5 L603.7 212.0 L603.8 210.5 L603.8 209.0 L603.9 207.5 L603.9 206.0 L603.8 204.5 L603.8 203.0 L603.7 201.5 L603.6 200.0 L603.6 198.5 L603.5 197.0 L603.4 195.5 L603.4 194.0 L603.3 192.5 L603.4 191.0 L603.5 189.5 L603.6 188.0 L603.7 186.5 L603.9 185.0 L604.0 183.5 L604.2 182.0 L604.4 180.5 L604.6 179.0 L604.9 177.5 L605.2 176.0 L605.5 174.5 L605.8 173.0 L606.1 171.5 L606.4 170.0 L606.8 168.5 L607.1 167.0 L607.5 165.5 L607.8 164.0 L608.2 162.5 L608.5 161.0 L608.9 159.5 L609.3 158.0 L609.6 156.5 L610.0 155.0 L610.3 153.5 L610.7 152.0 L611.0 150.5 L611.4 149.0 L611.7 147.5 L612.1 146.0 L612.4 144.5 L612.8 143.0 L613.2 141.5 L613.6 140.0 L614.0 138.5 L614.4 137.0 L614.8 135.5 L615.3 134.0 L615.8 132.5 L616.2 131.0 L616.7 129.5 L617.2 128.0 L617.8 126.5 L618.3 125.0 L618.9 123.5 L619.5 122.0 L620.1 120.5 L620.8 119.0 L621.5 117.5 L622.1 116.0 L622.8 114.5 L623.6 113.0 L624.3 111.5 L625.0 110.0 L625.7 108.5 L626.5 107.0 L627.2 105.5 L627.9 104.0 L628.6 102.5 L629.3 101.0 L630.0 99.5 L630.6 98.0 L631.3 96.5 L631.9 95.0 L632.5 93.5 L633.1 92.0 L633.6 90.5 L634.1 89.0 L634.5 87.5 L634.8 86.0 L635.1 84.5 L635.3 83.0 L635.3 81.5 L635.3 80.0 L635.1 78.5 L634.8 77.0 L634.4 75.5 L634.0 74.0 L633.4 72.5 L632.8 71.0 L632.2 69.5 L631.5 68.0 L630.8 66.5 L630.1 65.0 L629.3 63.5 L628.5 62.0 L627.7 60.5 L626.9 59.0 L626.1 57.5 L625.2 56.0 L624.4 54.5 L623.5 53.0 L622.6 51.5 L621.7 50.0 L620.8 48.5 L619.8 47.0 L618.9 45.5 L618.0 44.0 L617.1 42.5 L616.1 41.0 L615.2 39.5 L614.3 38.0 L613.4 36.5 L612.4 35.0 L611.5 33.5 L610.6 32.0 L609.8 30.5 L608.9 29.0 L608.0 27.5 L607.2 26.0 L606.4 24.5 L605.6 23.0 L604.8 21.5 Z" fill="#fff" fill-opacity="0.2" stroke="#2b2b2b" stroke-width="1.6" stroke-linejoin="round"/>
<circle cx="600.1" cy="100.1" r="5.9" fill="#8b0000"/>
<path d="M600.1 100.1H630.1" stroke="#000" stroke-width="1.3" fill="none"/>
<rect x="630.1" y="92.1" width="51.4" height="15.9" rx="2.2" fill="#fff" stroke="#262626" stroke-width="0.95"/>
<text x="633.5" y="103.1" font-size="8.4" fill="#000" stroke="#000" stroke-width="0.15">μ<tspan font-size="5.9" dx="0.4" dy="1.2">mean</tspan><tspan dx="-1" dy="-1.2"> = 0.80</tspan></text>
<text transform="translate(635.9 99.3) scale(2.15 0.8)" font-size="7" fill="#000" text-anchor="middle">^</text>
</g>
<g id="panelC">
<g stroke="#e0e0e0" stroke-width="0.55" fill="none">
<path d="M27.8 397.1H337.7"/>
<path d="M27.8 476.9H337.7"/>
<path d="M27.8 556.7H337.7"/>
<path d="M27.8 636.5H337.7"/>
</g>
<g stroke="#dedede" stroke-width="0.9" fill="none">
<path d="M27.8 357.2H337.7"/>
<path d="M27.8 437H337.7"/>
<path d="M27.8 516.8H337.7"/>
<path d="M27.8 596.6H337.7"/>
<path d="M112.3 346.4V651.8"/>
<path d="M253.3 346.4V651.8"/>
</g>
<g stroke="#2a2a2a" stroke-width="1.1" fill="none">
<path d="M25 357.2H27.8"/>
<path d="M25 437H27.8"/>
<path d="M25 516.8H27.8"/>
<path d="M25 596.6H27.8"/>
<path d="M112.3 651.8V654"/>
<path d="M253.3 651.8V654"/>
</g>
<g font-size="7.7" fill="#454545" stroke="#454545" stroke-width="0.12">
<text x="23.2" y="360" text-anchor="end">0.4</text>
<text x="23.2" y="439.8" text-anchor="end">0.3</text>
<text x="23.2" y="519.6" text-anchor="end">0.2</text>
<text x="23.2" y="599.4" text-anchor="end">0.1</text>
<text x="112.3" y="662" text-anchor="middle">No</text>
<text x="112.3" y="670.2" text-anchor="middle">(n = 185)</text>
<text x="253.3" y="662" text-anchor="middle">Yes</text>
<text x="253.3" y="670.2" text-anchor="middle">(n = 186)</text>
</g>
<g font-size="9.75" fill="#000" stroke="#000" stroke-width="0.2">
<text x="182.8" y="681.4" text-anchor="middle">Holocaust Descendent</text>
<text transform="translate(8 500.2) rotate(-90)" text-anchor="middle">Methylation on CRH's cg03405789 BC21</text>
</g>
<text x="0.8" y="356.6" font-size="14" fill="#000" stroke="#000" stroke-width="0.15">C</text>
<g fill="url(#pg)">
<circle cx="104.9" cy="578.7" r="5.55"/>
<circle cx="110.7" cy="545.8" r="5.55"/>
<circle cx="105.5" cy="469.1" r="5.55"/>
<circle cx="116.4" cy="533.2" r="5.55"/>
<circle cx="108.4" cy="438.0" r="5.55"/>
<circle cx="108.3" cy="580.7" r="5.55"/>
<circle cx="122.7" cy="495.3" r="5.55"/>
<circle cx="107.3" cy="471.4" r="5.55"/>
<circle cx="120.9" cy="606.5" r="5.55"/>
<circle cx="122.5" cy="524.7" r="5.55"/>
<circle cx="120.5" cy="485.2" r="5.55"/>
<circle cx="109.3" cy="570.2" r="5.55"/>
<circle cx="109.3" cy="554.9" r="5.55"/>
<circle cx="123.6" cy="391.0" r="5.55"/>
<circle cx="116.2" cy="583.4" r="5.55"/>
<circle cx="109.1" cy="477.5" r="5.55"/>
<circle cx="109.9" cy="495.7" r="5.55"/>
<circle cx="107.3" cy="429.1" r="5.55"/>
<circle cx="100.4" cy="532.2" r="5.55"/>
<circle cx="125.9" cy="481.5" r="5.55"/>
<circle cx="120.9" cy="541.0" r="5.55"/>
<circle cx="106.9" cy="604.3" r="5.55"/>
<circle cx="118.1" cy="516.4" r="5.55"/>
<circle cx="101.4" cy="488.9" r="5.55"/>
<circle cx="123.5" cy="487.3" r="5.55"/>
<circle cx="125.1" cy="545.2" r="5.55"/>
<circle cx="124.9" cy="563.0" r="5.55"/>
<circle cx="110.3" cy="514.8" r="5.55"/>
<circle cx="103.6" cy="483.9" r="5.55"/>
<circle cx="100.0" cy="542.7" r="5.55"/>
<circle cx="116.3" cy="587.2" r="5.55"/>
<circle cx="110.8" cy="474.0" r="5.55"/>
<circle cx="108.1" cy="468.3" r="5.55"/>
<circle cx="122.0" cy="537.0" r="5.55"/>
<circle cx="102.6" cy="474.8" r="5.55"/>
<circle cx="109.7" cy="506.0" r="5.55"/>
<circle cx="102.9" cy="485.6" r="5.55"/>
<circle cx="119.7" cy="566.0" r="5.55"/>
<circle cx="99.4" cy="638.1" r="5.55"/>
<circle cx="101.5" cy="521.8" r="5.55"/>
<circle cx="98.7" cy="526.2" r="5.55"/>
<circle cx="100.7" cy="519.7" r="5.55"/>
<circle cx="125.9" cy="502.7" r="5.55"/>
<circle cx="111.1" cy="488.4" r="5.55"/>
<circle cx="111.8" cy="451.3" r="5.55"/>
<circle cx="117.2" cy="593.8" r="5.55"/>
<circle cx="110.7" cy="539.6" r="5.55"/>
<circle cx="98.7" cy="560.7" r="5.55"/>
<circle cx="112.6" cy="393.9" r="5.55"/>
<circle cx="104.5" cy="396.1" r="5.55"/>
<circle cx="110.6" cy="558.8" r="5.55"/>
<circle cx="109.7" cy="607.9" r="5.55"/>
<circle cx="124.1" cy="497.6" r="5.55"/>
<circle cx="104.3" cy="588.1" r="5.55"/>
<circle cx="110.1" cy="544.1" r="5.55"/>
<circle cx="123.6" cy="547.7" r="5.55"/>
<circle cx="107.1" cy="491.3" r="5.55"/>
<circle cx="101.0" cy="573.3" r="5.55"/>
<circle cx="112.7" cy="421.8" r="5.55"/>
<circle cx="102.4" cy="549.3" r="5.55"/>
<circle cx="124.2" cy="528.4" r="5.55"/>
<circle cx="122.4" cy="551.4" r="5.55"/>
<circle cx="99.5" cy="496.9" r="5.55"/>
<circle cx="105.2" cy="581.8" r="5.55"/>
<circle cx="105.1" cy="494.1" r="5.55"/>
<circle cx="102.7" cy="564.7" r="5.55"/>
<circle cx="110.8" cy="470.7" r="5.55"/>
<circle cx="102.4" cy="600.9" r="5.55"/>
<circle cx="120.0" cy="512.4" r="5.55"/>
<circle cx="124.0" cy="472.7" r="5.55"/>
<circle cx="111.5" cy="503.2" r="5.55"/>
<circle cx="106.8" cy="508.9" r="5.55"/>
<circle cx="117.1" cy="479.5" r="5.55"/>
<circle cx="118.5" cy="411.5" r="5.55"/>
<circle cx="119.8" cy="467.2" r="5.55"/>
<circle cx="111.3" cy="537.9" r="5.55"/>
<circle cx="121.3" cy="518.0" r="5.55"/>
<circle cx="102.6" cy="610.6" r="5.55"/>
<circle cx="113.9" cy="531.5" r="5.55"/>
<circle cx="117.8" cy="456.7" r="5.55"/>
<circle cx="112.2" cy="454.3" r="5.55"/>
<circle cx="110.8" cy="464.5" r="5.55"/>
<circle cx="110.4" cy="432.4" r="5.55"/>
<circle cx="108.7" cy="527.4" r="5.55"/>
<circle cx="117.3" cy="508.2" r="5.55"/>
<circle cx="117.7" cy="596.7" r="5.55"/>
<circle cx="112.5" cy="563.8" r="5.55"/>
<circle cx="109.7" cy="550.9" r="5.55"/>
<circle cx="108.5" cy="548.4" r="5.55"/>
<circle cx="116.1" cy="590.7" r="5.55"/>
<circle cx="117.1" cy="577.4" r="5.55"/>
<circle cx="102.9" cy="465.9" r="5.55"/>
<circle cx="125.9" cy="445.2" r="5.55"/>
<circle cx="117.2" cy="449.9" r="5.55"/>
<circle cx="106.8" cy="517.4" r="5.55"/>
<circle cx="125.9" cy="576.3" r="5.55"/>
<circle cx="112.0" cy="500.4" r="5.55"/>
<circle cx="125.9" cy="585.3" r="5.55"/>
<circle cx="120.2" cy="430.6" r="5.55"/>
<circle cx="105.3" cy="413.7" r="5.55"/>
<circle cx="98.7" cy="568.2" r="5.55"/>
<circle cx="121.4" cy="417.4" r="5.55"/>
<circle cx="110.6" cy="562.2" r="5.55"/>
<circle cx="107.0" cy="443.7" r="5.55"/>
<circle cx="120.5" cy="426.7" r="5.55"/>
<circle cx="98.7" cy="504.4" r="5.55"/>
<circle cx="110.9" cy="510.3" r="5.55"/>
<circle cx="119.6" cy="509.7" r="5.55"/>
<circle cx="125.3" cy="514.1" r="5.55"/>
<circle cx="104.4" cy="523.5" r="5.55"/>
<circle cx="113.2" cy="525.4" r="5.55"/>
<circle cx="107.8" cy="546.9" r="5.55"/>
<circle cx="101.8" cy="513.2" r="5.55"/>
<circle cx="116.1" cy="614.3" r="5.55"/>
<circle cx="119.9" cy="522.7" r="5.55"/>
<circle cx="101.7" cy="447.6" r="5.55"/>
<circle cx="101.2" cy="553.5" r="5.55"/>
<circle cx="105.6" cy="530.0" r="5.55"/>
<circle cx="119.1" cy="601.8" r="5.55"/>
<circle cx="123.3" cy="436.0" r="5.55"/>
<circle cx="107.7" cy="575.4" r="5.55"/>
<circle cx="103.1" cy="557.4" r="5.55"/>
<circle cx="120.6" cy="507.0" r="5.55"/>
<circle cx="107.4" cy="423.0" r="5.55"/>
<circle cx="115.3" cy="441.1" r="5.55"/>
<circle cx="107.2" cy="533.9" r="5.55"/>
<circle cx="117.9" cy="482.8" r="5.55"/>
<circle cx="119.0" cy="579.6" r="5.55"/>
<circle cx="123.2" cy="534.6" r="5.55"/>
<circle cx="108.9" cy="459.5" r="5.55"/>
<circle cx="116.7" cy="543.5" r="5.55"/>
<circle cx="110.3" cy="552.8" r="5.55"/>
<circle cx="104.6" cy="595.3" r="5.55"/>
<circle cx="111.3" cy="535.3" r="5.55"/>
<circle cx="105.8" cy="584.7" r="5.55"/>
<circle cx="115.3" cy="556.9" r="5.55"/>
<circle cx="124.6" cy="520.6" r="5.55"/>
<circle cx="104.2" cy="540.1" r="5.55"/>
<circle cx="110.5" cy="461.7" r="5.55"/>
<circle cx="104.4" cy="499.1" r="5.55"/>
<circle cx="101.1" cy="455.1" r="5.55"/>
<circle cx="122.5" cy="570.7" r="5.55"/>
<circle cx="98.7" cy="515.6" r="5.55"/>
<circle cx="124.3" cy="625.7" r="5.55"/>
<circle cx="118.8" cy="573.8" r="5.55"/>
<circle cx="122.8" cy="490.2" r="5.55"/>
<circle cx="107.6" cy="501.8" r="5.55"/>
<circle cx="99.2" cy="434.2" r="5.55"/>
<circle cx="121.7" cy="500.0" r="5.55"/>
<circle cx="99.9" cy="592.6" r="5.55"/>
<circle cx="98.7" cy="452.4" r="5.55"/>
<circle cx="116.8" cy="554.0" r="5.55"/>
<circle cx="111.6" cy="529.4" r="5.55"/>
<circle cx="104.8" cy="399.0" r="5.55"/>
<circle cx="104.5" cy="636.4" r="5.55"/>
<circle cx="115.8" cy="521.1" r="5.55"/>
<circle cx="111.5" cy="559.3" r="5.55"/>
<circle cx="112.3" cy="542.0" r="5.55"/>
<circle cx="125.2" cy="463.5" r="5.55"/>
<circle cx="125.9" cy="511.1" r="5.55"/>
<circle cx="121.6" cy="476.0" r="5.55"/>
<circle cx="113.3" cy="568.8" r="5.55"/>
<circle cx="98.8" cy="492.2" r="5.55"/>
<circle cx="114.5" cy="550.0" r="5.55"/>
<circle cx="102.8" cy="538.5" r="5.55"/>
<circle cx="115.8" cy="526.8" r="5.55"/>
<circle cx="113.0" cy="457.7" r="5.55"/>
<circle cx="115.6" cy="505.4" r="5.55"/>
<circle cx="118.3" cy="561.4" r="5.55"/>
<circle cx="100.5" cy="440.4" r="5.55"/>
<circle cx="111.1" cy="446.0" r="5.55"/>
<circle cx="115.0" cy="572.2" r="5.55"/>
<circle cx="118.3" cy="589.3" r="5.55"/>
<circle cx="115.1" cy="460.3" r="5.55"/>
<circle cx="125.9" cy="555.9" r="5.55"/>
<circle cx="110.3" cy="492.9" r="5.55"/>
<circle cx="125.9" cy="478.7" r="5.55"/>
<circle cx="107.6" cy="598.6" r="5.55"/>
<circle cx="98.7" cy="480.6" r="5.55"/>
<circle cx="109.1" cy="518.9" r="5.55"/>
<circle cx="108.0" cy="567.1" r="5.55"/>
<circle cx="101.7" cy="536.4" r="5.55"/>
<circle cx="120.4" cy="530.9" r="5.55"/>
</g>
<g stroke="#484848" stroke-width="1.65" fill="none">
<path d="M112.3 391.4V478.5M112.3 561.6V638.3" stroke="#303030" stroke-width="1.55"/>
<rect x="91.2" y="478.5" width="42.3" height="83.1" fill="#fff" fill-opacity="0.2"/>
<path d="M91.2 527.5H133.4" stroke-width="3.0"/>
</g>
<path d="M109.3 391.4 L109.1 392.9 L108.8 394.4 L108.5 395.9 L108.2 397.4 L107.9 398.9 L107.6 400.4 L107.3 401.9 L107.0 403.4 L106.7 404.9 L106.4 406.4 L106.1 407.9 L105.7 409.4 L105.4 410.9 L105.1 412.4 L104.7 413.9 L104.4 415.4 L104.0 416.9 L103.7 418.4 L103.3 419.9 L102.9 421.4 L102.6 422.9 L102.2 424.4 L101.9 425.9 L101.5 427.4 L101.1 428.9 L100.8 430.4 L100.4 431.9 L100.0 433.4 L99.7 434.9 L99.3 436.4 L98.9 437.9 L98.6 439.4 L98.2 440.9 L97.9 442.4 L97.5 443.9 L97.1 445.4 L96.8 446.9 L96.4 448.4 L96.1 449.9 L95.8 451.4 L95.4 452.9 L95.1 454.4 L94.7 455.9 L94.4 457.4 L94.1 458.9 L93.8 460.4 L93.5 461.9 L93.2 463.4 L92.9 464.9 L92.6 466.4 L92.3 467.9 L92.0 469.4 L91.7 470.9 L91.4 472.4 L91.2 473.9 L90.9 475.4 L90.7 476.9 L90.4 478.4 L90.1 479.9 L89.9 481.4 L89.6 482.9 L89.4 484.4 L89.1 485.9 L88.9 487.4 L88.6 488.9 L88.3 490.4 L88.1 491.9 L87.8 493.4 L87.5 494.9 L87.2 496.4 L86.9 497.9 L86.6 499.4 L86.3 500.9 L86.0 502.4 L85.7 503.9 L85.4 505.4 L85.0 506.9 L84.7 508.4 L84.4 509.9 L84.1 511.4 L83.8 512.9 L83.5 514.4 L83.2 515.9 L82.9 517.4 L82.7 518.9 L82.4 520.4 L82.2 521.9 L82.0 523.4 L81.9 524.9 L81.7 526.4 L81.6 527.9 L81.6 529.4 L81.5 530.9 L81.5 532.4 L81.5 533.9 L81.6 535.4 L81.6 536.9 L81.8 538.4 L81.9 539.9 L82.0 541.4 L82.2 542.9 L82.4 544.4 L82.6 545.9 L82.9 547.4 L83.1 548.9 L83.4 550.4 L83.7 551.9 L84.0 553.4 L84.4 554.9 L84.7 556.4 L85.1 557.9 L85.4 559.4 L85.8 560.9 L86.2 562.4 L86.6 563.9 L87.0 565.4 L87.5 566.9 L87.9 568.4 L88.4 569.9 L88.8 571.4 L89.3 572.9 L89.7 574.4 L90.2 575.9 L90.7 577.4 L91.2 578.9 L91.7 580.4 L92.2 581.9 L92.7 583.4 L93.2 584.9 L93.7 586.4 L94.3 587.9 L94.8 589.4 L95.3 590.9 L95.8 592.4 L96.4 593.9 L96.9 595.4 L97.5 596.9 L98.0 598.4 L98.5 599.9 L99.1 601.4 L99.6 602.9 L100.1 604.4 L100.7 605.9 L101.2 607.4 L101.7 608.9 L102.3 610.4 L102.8 611.9 L103.3 613.4 L103.8 614.9 L104.3 616.4 L104.8 617.9 L105.2 619.4 L105.7 620.9 L106.1 622.4 L106.5 623.9 L107.0 625.4 L107.4 626.9 L107.8 628.4 L108.1 629.9 L108.5 631.4 L108.9 632.9 L109.2 634.4 L109.4 635.9 L109.6 637.4 L109.7 638.3 L114.9 638.3 L115.0 637.4 L115.2 635.9 L115.4 634.4 L115.7 632.9 L116.1 631.4 L116.5 629.9 L116.8 628.4 L117.2 626.9 L117.6 625.4 L118.1 623.9 L118.5 622.4 L118.9 620.9 L119.4 619.4 L119.8 617.9 L120.3 616.4 L120.8 614.9 L121.3 613.4 L121.8 611.9 L122.3 610.4 L122.9 608.9 L123.4 607.4 L123.9 605.9 L124.5 604.4 L125.0 602.9 L125.5 601.4 L126.1 599.9 L126.6 598.4 L127.1 596.9 L127.7 595.4 L128.2 593.9 L128.8 592.4 L129.3 590.9 L129.8 589.4 L130.3 587.9 L130.9 586.4 L131.4 584.9 L131.9 583.4 L132.4 581.9 L132.9 580.4 L133.4 578.9 L133.9 577.4 L134.4 575.9 L134.9 574.4 L135.3 572.9 L135.8 571.4 L136.2 569.9 L136.7 568.4 L137.1 566.9 L137.6 565.4 L138.0 563.9 L138.4 562.4 L138.8 560.9 L139.2 559.4 L139.5 557.9 L139.9 556.4 L140.2 554.9 L140.6 553.4 L140.9 551.9 L141.2 550.4 L141.5 548.9 L141.7 547.4 L142.0 545.9 L142.2 544.4 L142.4 542.9 L142.6 541.4 L142.7 539.9 L142.8 538.4 L143.0 536.9 L143.0 535.4 L143.1 533.9 L143.1 532.4 L143.1 530.9 L143.0 529.4 L143.0 527.9 L142.9 526.4 L142.7 524.9 L142.6 523.4 L142.4 521.9 L142.2 520.4 L141.9 518.9 L141.7 517.4 L141.4 515.9 L141.1 514.4 L140.8 512.9 L140.5 511.4 L140.2 509.9 L139.9 508.4 L139.6 506.9 L139.2 505.4 L138.9 503.9 L138.6 502.4 L138.3 500.9 L138.0 499.4 L137.7 497.9 L137.4 496.4 L137.1 494.9 L136.8 493.4 L136.5 491.9 L136.3 490.4 L136.0 488.9 L135.7 487.4 L135.5 485.9 L135.2 484.4 L135.0 482.9 L134.7 481.4 L134.5 479.9 L134.2 478.4 L133.9 476.9 L133.7 475.4 L133.4 473.9 L133.2 472.4 L132.9 470.9 L132.6 469.4 L132.3 467.9 L132.0 466.4 L131.7 464.9 L131.4 463.4 L131.1 461.9 L130.8 460.4 L130.5 458.9 L130.2 457.4 L129.9 455.9 L129.5 454.4 L129.2 452.9 L128.8 451.4 L128.5 449.9 L128.2 448.4 L127.8 446.9 L127.5 445.4 L127.1 443.9 L126.7 442.4 L126.4 440.9 L126.0 439.4 L125.7 437.9 L125.3 436.4 L124.9 434.9 L124.6 433.4 L124.2 431.9 L123.8 430.4 L123.5 428.9 L123.1 427.4 L122.7 425.9 L122.4 424.4 L122.0 422.9 L121.7 421.4 L121.3 419.9 L120.9 418.4 L120.6 416.9 L120.2 415.4 L119.9 413.9 L119.5 412.4 L119.2 410.9 L118.9 409.4 L118.5 407.9 L118.2 406.4 L117.9 404.9 L117.6 403.4 L117.3 401.9 L117.0 400.4 L116.7 398.9 L116.4 397.4 L116.1 395.9 L115.8 394.4 L115.5 392.9 L115.3 391.4 Z" fill="#fff" fill-opacity="0.2" stroke="#2b2b2b" stroke-width="1.6" stroke-linejoin="round"/>
<circle cx="112.3" cy="521.3" r="5.9" fill="#8b0000"/>
<path d="M112.3 521.3H143" stroke="#000" stroke-width="1.3" fill="none"/>
<rect x="143" y="513.3" width="51.4" height="15.9" rx="2.2" fill="#fff" stroke="#262626" stroke-width="0.95"/>
<text x="146.4" y="524.3" font-size="8.4" fill="#000" stroke="#000" stroke-width="0.15">μ<tspan font-size="5.9" dx="0.4" dy="1.2">mean</tspan><tspan dx="-1" dy="-1.2"> = 0.19</tspan></text>
<text transform="translate(148.8 520.5) scale(2.15 0.8)" font-size="7" fill="#000" text-anchor="middle">^</text>
<g fill="url(#pt)">
<circle cx="255.5" cy="532.6" r="5.55"/>
<circle cx="243.1" cy="529.4" r="5.55"/>
<circle cx="251.5" cy="459.4" r="5.55"/>
<circle cx="251.7" cy="569.4" r="5.55"/>
<circle cx="259.0" cy="453.9" r="5.55"/>
<circle cx="241.5" cy="555.0" r="5.55"/>
<circle cx="258.5" cy="512.7" r="5.55"/>
<circle cx="254.8" cy="528.7" r="5.55"/>
<circle cx="251.3" cy="604.1" r="5.55"/>
<circle cx="240.9" cy="546.2" r="5.55"/>
<circle cx="256.9" cy="608.0" r="5.55"/>
<circle cx="240.5" cy="588.3" r="5.55"/>
<circle cx="246.2" cy="455.5" r="5.55"/>
<circle cx="249.1" cy="502.3" r="5.55"/>
<circle cx="251.4" cy="514.9" r="5.55"/>
<circle cx="257.8" cy="510.3" r="5.55"/>
<circle cx="248.2" cy="579.7" r="5.55"/>
<circle cx="252.8" cy="483.2" r="5.55"/>
<circle cx="266.9" cy="500.4" r="5.55"/>
<circle cx="255.5" cy="525.0" r="5.55"/>
<circle cx="260.9" cy="472.8" r="5.55"/>
<circle cx="239.7" cy="522.4" r="5.55"/>
<circle cx="258.0" cy="445.0" r="5.55"/>
<circle cx="259.9" cy="475.3" r="5.55"/>
<circle cx="253.2" cy="584.2" r="5.55"/>
<circle cx="246.4" cy="492.9" r="5.55"/>
<circle cx="261.5" cy="548.6" r="5.55"/>
<circle cx="251.6" cy="553.0" r="5.55"/>
<circle cx="263.1" cy="566.3" r="5.55"/>
<circle cx="251.9" cy="546.0" r="5.55"/>
<circle cx="255.3" cy="561.3" r="5.55"/>
<circle cx="242.7" cy="576.1" r="5.55"/>
<circle cx="260.6" cy="496.1" r="5.55"/>
<circle cx="256.8" cy="518.8" r="5.55"/>
<circle cx="250.7" cy="418.9" r="5.55"/>
<circle cx="251.7" cy="572.8" r="5.55"/>
<circle cx="260.0" cy="520.5" r="5.55"/>
<circle cx="262.9" cy="538.2" r="5.55"/>
<circle cx="255.3" cy="496.9" r="5.55"/>
<circle cx="253.4" cy="554.4" r="5.55"/>
<circle cx="250.0" cy="499.4" r="5.55"/>
<circle cx="264.6" cy="583.3" r="5.55"/>
<circle cx="266.9" cy="518.0" r="5.55"/>
<circle cx="258.4" cy="585.8" r="5.55"/>
<circle cx="240.6" cy="537.8" r="5.55"/>
<circle cx="261.8" cy="485.6" r="5.55"/>
<circle cx="257.3" cy="541.7" r="5.55"/>
<circle cx="255.4" cy="542.4" r="5.55"/>
<circle cx="246.6" cy="476.5" r="5.55"/>
<circle cx="239.7" cy="498.1" r="5.55"/>
<circle cx="257.4" cy="540.2" r="5.55"/>
<circle cx="262.2" cy="578.5" r="5.55"/>
<circle cx="266.5" cy="543.1" r="5.55"/>
<circle cx="254.5" cy="577.2" r="5.55"/>
<circle cx="255.9" cy="498.7" r="5.55"/>
<circle cx="256.1" cy="508.3" r="5.55"/>
<circle cx="247.8" cy="536.8" r="5.55"/>
<circle cx="243.8" cy="480.9" r="5.55"/>
<circle cx="259.5" cy="568.7" r="5.55"/>
<circle cx="239.7" cy="422.1" r="5.55"/>
<circle cx="262.0" cy="547.2" r="5.55"/>
<circle cx="248.1" cy="492.2" r="5.55"/>
<circle cx="265.3" cy="524.4" r="5.55"/>
<circle cx="246.1" cy="571.3" r="5.55"/>
<circle cx="247.4" cy="540.9" r="5.55"/>
<circle cx="266.9" cy="539.4" r="5.55"/>
<circle cx="256.4" cy="522.7" r="5.55"/>
<circle cx="254.2" cy="559.7" r="5.55"/>
<circle cx="266.9" cy="591.2" r="5.55"/>
<circle cx="261.0" cy="526.7" r="5.55"/>
<circle cx="251.7" cy="563.7" r="5.55"/>
<circle cx="257.3" cy="413.0" r="5.55"/>
<circle cx="244.7" cy="544.2" r="5.55"/>
<circle cx="251.8" cy="582.4" r="5.55"/>
<circle cx="251.4" cy="609.7" r="5.55"/>
<circle cx="247.3" cy="474.2" r="5.55"/>
<circle cx="246.6" cy="556.7" r="5.55"/>
<circle cx="252.4" cy="360.3" r="5.55"/>
<circle cx="245.5" cy="513.6" r="5.55"/>
<circle cx="260.0" cy="503.2" r="5.55"/>
<circle cx="265.3" cy="447.5" r="5.55"/>
<circle cx="266.4" cy="612.4" r="5.55"/>
<circle cx="259.9" cy="514.0" r="5.55"/>
<circle cx="260.2" cy="471.6" r="5.55"/>
<circle cx="248.3" cy="567.0" r="5.55"/>
<circle cx="249.9" cy="412.3" r="5.55"/>
<circle cx="254.3" cy="614.4" r="5.55"/>
<circle cx="258.1" cy="570.8" r="5.55"/>
<circle cx="265.4" cy="572.3" r="5.55"/>
<circle cx="252.2" cy="501.6" r="5.55"/>
<circle cx="239.7" cy="449.7" r="5.55"/>
<circle cx="254.8" cy="592.5" r="5.55"/>
<circle cx="255.7" cy="494.2" r="5.55"/>
<circle cx="262.2" cy="463.0" r="5.55"/>
<circle cx="266.9" cy="597.3" r="5.55"/>
<circle cx="253.8" cy="557.7" r="5.55"/>
<circle cx="247.2" cy="517.7" r="5.55"/>
<circle cx="243.6" cy="594.0" r="5.55"/>
<circle cx="264.2" cy="559.2" r="5.55"/>
<circle cx="242.7" cy="506.4" r="5.55"/>
<circle cx="239.7" cy="511.9" r="5.55"/>
<circle cx="251.0" cy="479.7" r="5.55"/>
<circle cx="263.9" cy="550.5" r="5.55"/>
<circle cx="246.2" cy="596.2" r="5.55"/>
<circle cx="260.8" cy="530.2" r="5.55"/>
<circle cx="245.5" cy="486.4" r="5.55"/>
<circle cx="259.1" cy="574.4" r="5.55"/>
<circle cx="255.0" cy="543.7" r="5.55"/>
<circle cx="254.4" cy="595.1" r="5.55"/>
<circle cx="259.4" cy="554.0" r="5.55"/>
<circle cx="266.9" cy="562.9" r="5.55"/>
<circle cx="261.8" cy="458.5" r="5.55"/>
<circle cx="243.1" cy="551.8" r="5.55"/>
<circle cx="252.4" cy="504.1" r="5.55"/>
<circle cx="240.5" cy="580.6" r="5.55"/>
<circle cx="260.6" cy="599.3" r="5.55"/>
<circle cx="254.4" cy="555.9" r="5.55"/>
<circle cx="265.5" cy="534.1" r="5.55"/>
<circle cx="243.6" cy="569.9" r="5.55"/>
<circle cx="240.8" cy="452.5" r="5.55"/>
<circle cx="243.6" cy="617.8" r="5.55"/>
<circle cx="241.4" cy="567.9" r="5.55"/>
<circle cx="244.2" cy="525.8" r="5.55"/>
<circle cx="254.4" cy="565.4" r="5.55"/>
<circle cx="240.7" cy="484.1" r="5.55"/>
<circle cx="245.7" cy="590.3" r="5.55"/>
<circle cx="242.8" cy="504.8" r="5.55"/>
<circle cx="245.9" cy="535.3" r="5.55"/>
<circle cx="246.0" cy="549.8" r="5.55"/>
<circle cx="265.2" cy="482.4" r="5.55"/>
<circle cx="262.6" cy="564.7" r="5.55"/>
<circle cx="249.7" cy="469.4" r="5.55"/>
<circle cx="253.6" cy="437.2" r="5.55"/>
<circle cx="247.1" cy="561.8" r="5.55"/>
<circle cx="242.6" cy="558.5" r="5.55"/>
<circle cx="242.1" cy="489.9" r="5.55"/>
<circle cx="246.9" cy="527.4" r="5.55"/>
<circle cx="248.1" cy="533.4" r="5.55"/>
<circle cx="258.1" cy="552.3" r="5.55"/>
<circle cx="247.1" cy="551.4" r="5.55"/>
<circle cx="260.2" cy="505.6" r="5.55"/>
<circle cx="243.8" cy="560.9" r="5.55"/>
<circle cx="246.8" cy="523.9" r="5.55"/>
<circle cx="266.3" cy="487.7" r="5.55"/>
<circle cx="252.9" cy="534.5" r="5.55"/>
<circle cx="245.1" cy="520.0" r="5.55"/>
<circle cx="253.1" cy="495.2" r="5.55"/>
<circle cx="261.4" cy="588.9" r="5.55"/>
<circle cx="266.9" cy="557.3" r="5.55"/>
<circle cx="244.4" cy="466.2" r="5.55"/>
<circle cx="262.8" cy="491.2" r="5.55"/>
<circle cx="266.9" cy="507.7" r="5.55"/>
<circle cx="257.0" cy="468.1" r="5.55"/>
<circle cx="251.5" cy="531.2" r="5.55"/>
<circle cx="265.2" cy="601.9" r="5.55"/>
<circle cx="242.8" cy="509.2" r="5.55"/>
<circle cx="246.8" cy="521.4" r="5.55"/>
<circle cx="244.9" cy="538.8" r="5.55"/>
<circle cx="240.9" cy="478.5" r="5.55"/>
<circle cx="241.1" cy="585.2" r="5.55"/>
<circle cx="260.6" cy="536.4" r="5.55"/>
<circle cx="247.2" cy="516.1" r="5.55"/>
<circle cx="242.6" cy="411.6" r="5.55"/>
<circle cx="244.1" cy="573.6" r="5.55"/>
<circle cx="253.5" cy="488.8" r="5.55"/>
<circle cx="258.4" cy="516.6" r="5.55"/>
<circle cx="251.4" cy="586.9" r="5.55"/>
<circle cx="241.0" cy="605.7" r="5.55"/>
<circle cx="245.4" cy="511.0" r="5.55"/>
<circle cx="239.7" cy="532.0" r="5.55"/>
<circle cx="241.0" cy="564.3" r="5.55"/>
<circle cx="264.0" cy="545.0" r="5.55"/>
<circle cx="245.7" cy="547.8" r="5.55"/>
<circle cx="248.5" cy="440.2" r="5.55"/>
<circle cx="257.3" cy="581.5" r="5.55"/>
<circle cx="246.0" cy="448.0" r="5.55"/>
<circle cx="246.7" cy="600.6" r="5.55"/>
<circle cx="258.6" cy="575.3" r="5.55"/>
<circle cx="246.6" cy="461.7" r="5.55"/>
<circle cx="243.7" cy="577.6" r="5.55"/>
<circle cx="254.7" cy="465.3" r="5.55"/>
<circle cx="260.3" cy="528.4" r="5.55"/>
<circle cx="256.6" cy="549.1" r="5.55"/>
</g>
<g stroke="#484848" stroke-width="1.65" fill="none">
<path d="M253.3 412.3V501.2M253.3 565.9V619" stroke="#303030" stroke-width="1.55"/>
<rect x="232.2" y="501.2" width="42.3" height="64.7" fill="#fff" fill-opacity="0.2"/>
<path d="M232.2 536H274.4" stroke-width="3.0"/>
</g>
<path d="M252.5 360.3 L252.5 361.8 L252.5 363.3 L252.5 364.8 L252.5 366.3 L252.5 367.8 L252.5 369.3 L252.5 370.8 L252.5 372.3 L252.5 373.8 L252.5 375.3 L252.5 376.8 L252.5 378.3 L252.5 379.8 L252.5 381.3 L252.5 382.8 L252.5 384.3 L252.4 385.8 L252.4 387.3 L252.2 388.8 L252.1 390.3 L251.9 391.8 L251.8 393.3 L251.6 394.8 L251.5 396.3 L251.3 397.8 L251.1 399.3 L251.0 400.8 L250.8 402.3 L250.6 403.8 L250.4 405.3 L250.2 406.8 L250.0 408.3 L249.8 409.8 L249.6 411.3 L249.4 412.8 L249.2 414.3 L249.0 415.8 L248.8 417.3 L248.5 418.8 L248.3 420.3 L248.0 421.8 L247.8 423.3 L247.5 424.8 L247.3 426.3 L247.0 427.8 L246.7 429.3 L246.4 430.8 L246.2 432.3 L245.9 433.8 L245.6 435.3 L245.3 436.8 L245.0 438.3 L244.7 439.8 L244.4 441.3 L244.1 442.8 L243.8 444.3 L243.5 445.8 L243.1 447.3 L242.8 448.8 L242.5 450.3 L242.2 451.8 L241.8 453.3 L241.5 454.8 L241.1 456.3 L240.8 457.8 L240.5 459.3 L240.1 460.8 L239.7 462.3 L239.4 463.8 L239.0 465.3 L238.6 466.8 L238.2 468.3 L237.8 469.8 L237.3 471.3 L236.9 472.8 L236.5 474.3 L236.0 475.8 L235.5 477.3 L235.0 478.8 L234.5 480.3 L234.0 481.8 L233.5 483.3 L232.9 484.8 L232.4 486.3 L231.8 487.8 L231.2 489.3 L230.7 490.8 L230.1 492.3 L229.5 493.8 L229.0 495.3 L228.4 496.8 L227.9 498.3 L227.5 499.8 L227.0 501.3 L226.6 502.8 L226.2 504.3 L225.9 505.8 L225.5 507.3 L225.2 508.8 L224.9 510.3 L224.6 511.8 L224.4 513.3 L224.1 514.8 L223.8 516.3 L223.5 517.8 L223.3 519.3 L223.0 520.8 L222.7 522.3 L222.4 523.8 L222.1 525.3 L221.8 526.8 L221.5 528.3 L221.2 529.8 L220.9 531.3 L220.5 532.8 L220.2 534.3 L219.9 535.8 L219.6 537.3 L219.3 538.8 L219.1 540.3 L218.8 541.8 L218.6 543.3 L218.4 544.8 L218.3 546.3 L218.1 547.8 L218.1 549.3 L218.0 550.8 L218.1 552.3 L218.1 553.8 L218.2 555.3 L218.4 556.8 L218.6 558.3 L218.9 559.8 L219.2 561.3 L219.5 562.8 L219.9 564.3 L220.4 565.8 L220.8 567.3 L221.4 568.8 L221.9 570.3 L222.5 571.8 L223.1 573.3 L223.7 574.8 L224.4 576.3 L225.1 577.8 L225.9 579.3 L226.6 580.8 L227.4 582.3 L228.2 583.8 L229.0 585.3 L229.8 586.8 L230.7 588.3 L231.5 589.8 L232.4 591.3 L233.2 592.8 L234.1 594.3 L235.0 595.8 L235.8 597.3 L236.7 598.8 L237.5 600.3 L238.4 601.8 L239.2 603.3 L240.0 604.8 L240.8 606.3 L241.6 607.8 L242.4 609.3 L243.1 610.8 L243.8 612.3 L244.5 613.8 L245.2 615.3 L245.8 616.8 L246.4 618.3 L246.7 619.0 L259.9 619.0 L260.2 618.3 L260.8 616.8 L261.4 615.3 L262.1 613.8 L262.8 612.3 L263.5 610.8 L264.2 609.3 L265.0 607.8 L265.8 606.3 L266.6 604.8 L267.4 603.3 L268.2 601.8 L269.1 600.3 L269.9 598.8 L270.8 597.3 L271.6 595.8 L272.5 594.3 L273.4 592.8 L274.2 591.3 L275.1 589.8 L275.9 588.3 L276.8 586.8 L277.6 585.3 L278.4 583.8 L279.2 582.3 L280.0 580.8 L280.7 579.3 L281.5 577.8 L282.2 576.3 L282.9 574.8 L283.5 573.3 L284.1 571.8 L284.7 570.3 L285.2 568.8 L285.8 567.3 L286.2 565.8 L286.7 564.3 L287.1 562.8 L287.4 561.3 L287.7 559.8 L288.0 558.3 L288.2 556.8 L288.4 555.3 L288.5 553.8 L288.5 552.3 L288.6 550.8 L288.5 549.3 L288.5 547.8 L288.3 546.3 L288.2 544.8 L288.0 543.3 L287.8 541.8 L287.5 540.3 L287.3 538.8 L287.0 537.3 L286.7 535.8 L286.4 534.3 L286.1 532.8 L285.7 531.3 L285.4 529.8 L285.1 528.3 L284.8 526.8 L284.5 525.3 L284.2 523.8 L283.9 522.3 L283.6 520.8 L283.3 519.3 L283.1 517.8 L282.8 516.3 L282.5 514.8 L282.2 513.3 L282.0 511.8 L281.7 510.3 L281.4 508.8 L281.1 507.3 L280.7 505.8 L280.4 504.3 L280.0 502.8 L279.6 501.3 L279.1 499.8 L278.7 498.3 L278.2 496.8 L277.6 495.3 L277.1 493.8 L276.5 492.3 L275.9 490.8 L275.4 489.3 L274.8 487.8 L274.2 486.3 L273.7 484.8 L273.1 483.3 L272.6 481.8 L272.1 480.3 L271.6 478.8 L271.1 477.3 L270.6 475.8 L270.1 474.3 L269.7 472.8 L269.3 471.3 L268.8 469.8 L268.4 468.3 L268.0 466.8 L267.6 465.3 L267.2 463.8 L266.9 462.3 L266.5 460.8 L266.1 459.3 L265.8 457.8 L265.5 456.3 L265.1 454.8 L264.8 453.3 L264.4 451.8 L264.1 450.3 L263.8 448.8 L263.5 447.3 L263.1 445.8 L262.8 444.3 L262.5 442.8 L262.2 441.3 L261.9 439.8 L261.6 438.3 L261.3 436.8 L261.0 435.3 L260.7 433.8 L260.4 432.3 L260.2 430.8 L259.9 429.3 L259.6 427.8 L259.3 426.3 L259.1 424.8 L258.8 423.3 L258.6 421.8 L258.3 420.3 L258.1 418.8 L257.8 417.3 L257.6 415.8 L257.4 414.3 L257.2 412.8 L257.0 411.3 L256.8 409.8 L256.6 408.3 L256.4 406.8 L256.2 405.3 L256.0 403.8 L255.8 402.3 L255.6 400.8 L255.5 399.3 L255.3 397.8 L255.1 396.3 L255.0 394.8 L254.8 393.3 L254.7 391.8 L254.5 390.3 L254.4 388.8 L254.2 387.3 L254.2 385.8 L254.1 384.3 L254.1 382.8 L254.1 381.3 L254.1 379.8 L254.1 378.3 L254.1 376.8 L254.1 375.3 L254.1 373.8 L254.1 372.3 L254.1 370.8 L254.1 369.3 L254.1 367.8 L254.1 366.3 L254.1 364.8 L254.1 363.3 L254.1 361.8 L254.1 360.3 Z" fill="#fff" fill-opacity="0.2" stroke="#2b2b2b" stroke-width="1.6" stroke-linejoin="round"/>
<circle cx="253.3" cy="529.7" r="5.9" fill="#8b0000"/>
<path d="M253.3 529.7H283.4" stroke="#000" stroke-width="1.3" fill="none"/>
<rect x="283.4" y="521.8" width="51.3" height="15.9" rx="2.2" fill="#fff" stroke="#262626" stroke-width="0.95"/>
<text x="286.8" y="532.7" font-size="8.4" fill="#000" stroke="#000" stroke-width="0.15">μ<tspan font-size="5.9" dx="0.4" dy="1.2">mean</tspan><tspan dx="-1" dy="-1.2"> = 0.18</tspan></text>
<text transform="translate(289.2 528.9) scale(2.15 0.8)" font-size="7" fill="#000" text-anchor="middle">^</text>
</g>
<g id="panelD">
<g stroke="#e0e0e0" stroke-width="0.55" fill="none">
<path d="M374.3 348H685"/>
<path d="M374.3 430.1H685"/>
<path d="M374.3 512.1H685"/>
<path d="M374.3 594H685"/>
</g>
<g stroke="#dedede" stroke-width="0.9" fill="none">
<path d="M374.3 389H685"/>
<path d="M374.3 471.1H685"/>
<path d="M374.3 553.1H685"/>
<path d="M374.3 635H685"/>
<path d="M459.1 346.4V651.8"/>
<path d="M600.1 346.4V651.8"/>
</g>
<g stroke="#2a2a2a" stroke-width="1.1" fill="none">
<path d="M371.5 389H374.3"/>
<path d="M371.5 471.1H374.3"/>
<path d="M371.5 553.1H374.3"/>
<path d="M371.5 635H374.3"/>
<path d="M459.1 651.8V654"/>
<path d="M600.1 651.8V654"/>
</g>
<g font-size="7.7" fill="#454545" stroke="#454545" stroke-width="0.12">
<text x="369.7" y="391.8" text-anchor="end">0.9</text>
<text x="369.7" y="473.9" text-anchor="end">0.8</text>
<text x="369.7" y="555.9" text-anchor="end">0.7</text>
<text x="369.7" y="637.8" text-anchor="end">0.6</text>
<text x="459.1" y="662" text-anchor="middle">No</text>
<text x="459.1" y="670.2" text-anchor="middle">(n = 185)</text>
<text x="600.1" y="662" text-anchor="middle">Yes</text>
<text x="600.1" y="670.2" text-anchor="middle">(n = 186)</text>
</g>
<g font-size="9.75" fill="#000" stroke="#000" stroke-width="0.2">
<text x="529.6" y="681.4" text-anchor="middle">Holocaust Descendent</text>
<text transform="translate(355.4 500.2) rotate(-90)" text-anchor="middle">Methylation on CRHBP's cg26196496 BC21</text>
</g>
<text x="347.2" y="356.6" font-size="14" fill="#000" stroke="#000" stroke-width="0.15">D</text>
<g fill="url(#pg)">
<circle cx="469.6" cy="508.6" r="5.55"/>
<circle cx="471.3" cy="391.4" r="5.55"/>
<circle cx="452.5" cy="468.9" r="5.55"/>
<circle cx="472.7" cy="498.0" r="5.55"/>
<circle cx="451.1" cy="541.0" r="5.55"/>
<circle cx="472.0" cy="582.7" r="5.55"/>
<circle cx="471.3" cy="421.9" r="5.55"/>
<circle cx="456.7" cy="390.0" r="5.55"/>
<circle cx="451.8" cy="474.1" r="5.55"/>
<circle cx="450.9" cy="394.9" r="5.55"/>
<circle cx="458.3" cy="483.7" r="5.55"/>
<circle cx="468.4" cy="442.3" r="5.55"/>
<circle cx="465.3" cy="420.3" r="5.55"/>
<circle cx="461.9" cy="485.2" r="5.55"/>
<circle cx="464.9" cy="446.0" r="5.55"/>
<circle cx="450.5" cy="500.4" r="5.55"/>
<circle cx="449.1" cy="429.3" r="5.55"/>
<circle cx="472.7" cy="403.0" r="5.55"/>
<circle cx="447.0" cy="537.5" r="5.55"/>
<circle cx="457.3" cy="393.9" r="5.55"/>
<circle cx="451.7" cy="439.5" r="5.55"/>
<circle cx="462.0" cy="482.8" r="5.55"/>
<circle cx="459.4" cy="422.6" r="5.55"/>
<circle cx="461.0" cy="529.1" r="5.55"/>
<circle cx="469.3" cy="427.4" r="5.55"/>
<circle cx="453.8" cy="423.4" r="5.55"/>
<circle cx="465.7" cy="478.0" r="5.55"/>
<circle cx="451.1" cy="489.3" r="5.55"/>
<circle cx="462.7" cy="437.5" r="5.55"/>
<circle cx="458.8" cy="407.3" r="5.55"/>
<circle cx="460.7" cy="404.3" r="5.55"/>
<circle cx="447.6" cy="486.2" r="5.55"/>
<circle cx="462.0" cy="521.5" r="5.55"/>
<circle cx="453.6" cy="460.8" r="5.55"/>
<circle cx="472.7" cy="425.6" r="5.55"/>
<circle cx="464.6" cy="426.4" r="5.55"/>
<circle cx="462.1" cy="509.7" r="5.55"/>
<circle cx="462.7" cy="516.8" r="5.55"/>
<circle cx="451.4" cy="447.7" r="5.55"/>
<circle cx="459.9" cy="410.1" r="5.55"/>
<circle cx="465.1" cy="524.5" r="5.55"/>
<circle cx="455.1" cy="488.7" r="5.55"/>
<circle cx="466.2" cy="612.7" r="5.55"/>
<circle cx="469.1" cy="468.0" r="5.55"/>
<circle cx="459.0" cy="462.7" r="5.55"/>
<circle cx="458.9" cy="460.2" r="5.55"/>
<circle cx="472.7" cy="455.5" r="5.55"/>
<circle cx="461.8" cy="590.7" r="5.55"/>
<circle cx="467.9" cy="533.5" r="5.55"/>
<circle cx="450.3" cy="432.6" r="5.55"/>
<circle cx="464.5" cy="490.3" r="5.55"/>
<circle cx="454.5" cy="458.3" r="5.55"/>
<circle cx="468.6" cy="410.9" r="5.55"/>
<circle cx="461.9" cy="416.4" r="5.55"/>
<circle cx="454.0" cy="464.9" r="5.55"/>
<circle cx="461.1" cy="444.4" r="5.55"/>
<circle cx="467.3" cy="388.5" r="5.55"/>
<circle cx="446.9" cy="494.9" r="5.55"/>
<circle cx="466.4" cy="436.9" r="5.55"/>
<circle cx="451.1" cy="576.0" r="5.55"/>
<circle cx="472.7" cy="484.7" r="5.55"/>
<circle cx="454.6" cy="491.4" r="5.55"/>
<circle cx="454.4" cy="441.7" r="5.55"/>
<circle cx="458.9" cy="628.1" r="5.55"/>
<circle cx="463.2" cy="428.2" r="5.55"/>
<circle cx="447.6" cy="463.2" r="5.55"/>
<circle cx="456.1" cy="417.1" r="5.55"/>
<circle cx="446.4" cy="438.0" r="5.55"/>
<circle cx="464.7" cy="475.3" r="5.55"/>
<circle cx="459.6" cy="561.4" r="5.55"/>
<circle cx="453.8" cy="443.2" r="5.55"/>
<circle cx="461.6" cy="439.0" r="5.55"/>
<circle cx="453.0" cy="436.1" r="5.55"/>
<circle cx="453.4" cy="454.8" r="5.55"/>
<circle cx="450.0" cy="450.9" r="5.55"/>
<circle cx="458.9" cy="368.2" r="5.55"/>
<circle cx="464.8" cy="479.5" r="5.55"/>
<circle cx="464.1" cy="429.6" r="5.55"/>
<circle cx="454.4" cy="418.9" r="5.55"/>
<circle cx="454.1" cy="531.8" r="5.55"/>
<circle cx="456.5" cy="424.6" r="5.55"/>
<circle cx="450.3" cy="434.2" r="5.55"/>
<circle cx="450.5" cy="582.7" r="5.55"/>
<circle cx="458.0" cy="535.6" r="5.55"/>
<circle cx="447.9" cy="592.2" r="5.55"/>
<circle cx="472.8" cy="607.1" r="5.55"/>
<circle cx="460.3" cy="545.3" r="5.55"/>
<circle cx="445.5" cy="504.2" r="5.55"/>
<circle cx="445.5" cy="443.9" r="5.55"/>
<circle cx="449.0" cy="456.7" r="5.55"/>
<circle cx="447.1" cy="399.0" r="5.55"/>
<circle cx="460.6" cy="413.5" r="5.55"/>
<circle cx="462.2" cy="456.0" r="5.55"/>
<circle cx="472.2" cy="527.4" r="5.55"/>
<circle cx="469.9" cy="449.8" r="5.55"/>
<circle cx="457.3" cy="432.1" r="5.55"/>
<circle cx="467.6" cy="433.5" r="5.55"/>
<circle cx="469.0" cy="400.1" r="5.55"/>
<circle cx="446.6" cy="453.1" r="5.55"/>
<circle cx="446.1" cy="434.7" r="5.55"/>
<circle cx="446.3" cy="514.8" r="5.55"/>
<circle cx="446.0" cy="561.7" r="5.55"/>
<circle cx="455.8" cy="401.8" r="5.55"/>
<circle cx="463.8" cy="505.2" r="5.55"/>
<circle cx="452.9" cy="426.9" r="5.55"/>
<circle cx="468.4" cy="519.5" r="5.55"/>
<circle cx="462.7" cy="496.1" r="5.55"/>
<circle cx="447.2" cy="522.8" r="5.55"/>
<circle cx="464.0" cy="409.1" r="5.55"/>
<circle cx="465.4" cy="396.2" r="5.55"/>
<circle cx="467.7" cy="573.9" r="5.55"/>
<circle cx="456.7" cy="496.8" r="5.55"/>
<circle cx="469.6" cy="457.7" r="5.55"/>
<circle cx="455.1" cy="525.7" r="5.55"/>
<circle cx="455.6" cy="467.4" r="5.55"/>
<circle cx="469.9" cy="465.7" r="5.55"/>
<circle cx="471.6" cy="415.3" r="5.55"/>
<circle cx="468.8" cy="492.4" r="5.55"/>
<circle cx="455.2" cy="503.4" r="5.55"/>
<circle cx="460.9" cy="539.5" r="5.55"/>
<circle cx="467.7" cy="551.1" r="5.55"/>
<circle cx="453.8" cy="471.5" r="5.55"/>
<circle cx="457.2" cy="448.9" r="5.55"/>
<circle cx="469.8" cy="431.0" r="5.55"/>
<circle cx="449.8" cy="419.3" r="5.55"/>
<circle cx="457.9" cy="450.1" r="5.55"/>
<circle cx="460.4" cy="397.9" r="5.55"/>
<circle cx="455.9" cy="550.4" r="5.55"/>
<circle cx="472.7" cy="472.6" r="5.55"/>
<circle cx="458.1" cy="414.5" r="5.55"/>
<circle cx="453.6" cy="493.7" r="5.55"/>
<circle cx="472.2" cy="452.0" r="5.55"/>
<circle cx="465.4" cy="466.5" r="5.55"/>
<circle cx="466.0" cy="470.5" r="5.55"/>
<circle cx="467.2" cy="487.6" r="5.55"/>
<circle cx="452.0" cy="507.0" r="5.55"/>
<circle cx="468.4" cy="406.4" r="5.55"/>
<circle cx="472.7" cy="417.8" r="5.55"/>
<circle cx="455.3" cy="510.9" r="5.55"/>
<circle cx="453.7" cy="599.5" r="5.55"/>
<circle cx="467.7" cy="424.0" r="5.55"/>
<circle cx="445.6" cy="476.7" r="5.55"/>
<circle cx="459.7" cy="499.1" r="5.55"/>
<circle cx="445.5" cy="470.1" r="5.55"/>
<circle cx="455.3" cy="480.8" r="5.55"/>
<circle cx="461.6" cy="512.1" r="5.55"/>
<circle cx="445.5" cy="408.0" r="5.55"/>
<circle cx="450.3" cy="478.6" r="5.55"/>
<circle cx="452.9" cy="445.2" r="5.55"/>
<circle cx="465.5" cy="580.5" r="5.55"/>
<circle cx="465.8" cy="448.3" r="5.55"/>
<circle cx="469.9" cy="598.0" r="5.55"/>
<circle cx="456.5" cy="513.5" r="5.55"/>
<circle cx="457.8" cy="411.6" r="5.55"/>
<circle cx="446.5" cy="481.4" r="5.55"/>
<circle cx="464.8" cy="435.6" r="5.55"/>
<circle cx="446.1" cy="413.0" r="5.55"/>
<circle cx="452.0" cy="518.3" r="5.55"/>
<circle cx="471.7" cy="440.2" r="5.55"/>
<circle cx="460.2" cy="446.6" r="5.55"/>
<circle cx="464.3" cy="441.2" r="5.55"/>
<circle cx="461.8" cy="568.0" r="5.55"/>
<circle cx="470.0" cy="464.3" r="5.55"/>
<circle cx="454.2" cy="420.8" r="5.55"/>
<circle cx="468.3" cy="454.0" r="5.55"/>
<circle cx="466.2" cy="367.9" r="5.55"/>
<circle cx="469.5" cy="461.4" r="5.55"/>
<circle cx="461.4" cy="452.5" r="5.55"/>
<circle cx="445.5" cy="459.1" r="5.55"/>
<circle cx="451.4" cy="430.3" r="5.55"/>
<circle cx="456.1" cy="473.2" r="5.55"/>
<circle cx="450.3" cy="404.8" r="5.55"/>
<circle cx="460.2" cy="475.8" r="5.55"/>
<circle cx="469.1" cy="589.3" r="5.55"/>
<circle cx="472.7" cy="501.6" r="5.55"/>
</g>
<g stroke="#484848" stroke-width="1.65" fill="none">
<path d="M459.1 368.2V431.5M459.1 505.9V611.2" stroke="#303030" stroke-width="1.55"/>
<rect x="438" y="431.5" width="42.3" height="74.4" fill="#fff" fill-opacity="0.2"/>
<path d="M438 465.2H480.2" stroke-width="3.0"/>
</g>
<path d="M455.8 368.2 L455.5 369.7 L455.2 371.2 L454.9 372.7 L454.5 374.2 L454.0 375.7 L453.4 377.2 L452.9 378.7 L452.2 380.2 L451.6 381.7 L450.8 383.2 L450.1 384.7 L449.3 386.2 L448.5 387.7 L447.6 389.2 L446.8 390.7 L445.9 392.2 L445.0 393.7 L444.1 395.2 L443.1 396.7 L442.2 398.2 L441.2 399.7 L440.3 401.2 L439.3 402.7 L438.4 404.2 L437.4 405.7 L436.5 407.2 L435.6 408.7 L434.8 410.2 L433.9 411.7 L433.1 413.2 L432.3 414.7 L431.5 416.2 L430.8 417.7 L430.2 419.2 L429.6 420.7 L429.0 422.2 L428.5 423.7 L428.1 425.2 L427.7 426.7 L427.4 428.2 L427.1 429.7 L426.8 431.2 L426.6 432.7 L426.5 434.2 L426.4 435.7 L426.4 437.2 L426.3 438.7 L426.4 440.2 L426.5 441.7 L426.6 443.2 L426.7 444.7 L426.9 446.2 L427.2 447.7 L427.4 449.2 L427.7 450.7 L428.0 452.2 L428.3 453.7 L428.6 455.2 L429.0 456.7 L429.3 458.2 L429.7 459.7 L430.1 461.2 L430.4 462.7 L430.8 464.2 L431.2 465.7 L431.5 467.2 L431.9 468.7 L432.3 470.2 L432.6 471.7 L433.0 473.2 L433.4 474.7 L433.8 476.2 L434.1 477.7 L434.5 479.2 L434.9 480.7 L435.3 482.2 L435.6 483.7 L436.0 485.2 L436.4 486.7 L436.8 488.2 L437.2 489.7 L437.5 491.2 L437.9 492.7 L438.3 494.2 L438.7 495.7 L439.0 497.2 L439.4 498.7 L439.8 500.2 L440.1 501.7 L440.5 503.2 L440.9 504.7 L441.2 506.2 L441.6 507.7 L441.9 509.2 L442.3 510.7 L442.6 512.2 L443.0 513.7 L443.3 515.2 L443.6 516.7 L444.0 518.2 L444.3 519.7 L444.6 521.2 L444.9 522.7 L445.2 524.2 L445.6 525.7 L445.9 527.2 L446.1 528.7 L446.4 530.2 L446.7 531.7 L447.0 533.2 L447.2 534.7 L447.5 536.2 L447.7 537.7 L448.0 539.2 L448.2 540.7 L448.4 542.2 L448.6 543.7 L448.8 545.2 L449.0 546.7 L449.2 548.2 L449.3 549.7 L449.5 551.2 L449.6 552.7 L449.7 554.2 L449.8 555.7 L449.9 557.2 L450.0 558.7 L450.1 560.2 L450.2 561.7 L450.3 563.2 L450.3 564.7 L450.4 566.2 L450.5 567.7 L450.5 569.2 L450.6 570.7 L450.6 572.2 L450.7 573.7 L450.8 575.2 L450.8 576.7 L450.9 578.2 L451.0 579.7 L451.1 581.2 L451.2 582.7 L451.3 584.2 L451.4 585.7 L451.5 587.2 L451.7 588.7 L451.8 590.2 L452.0 591.7 L452.1 593.2 L452.3 594.7 L452.5 596.2 L452.7 597.7 L453.0 599.2 L453.2 600.7 L453.4 602.2 L453.7 603.7 L453.9 605.2 L454.2 606.7 L454.4 608.2 L454.7 609.7 L455.0 611.2 L455.2 612.7 L455.5 614.2 L455.7 615.7 L455.9 617.2 L456.1 618.7 L456.3 620.2 L456.5 621.7 L456.6 623.2 L456.8 624.7 L456.9 626.2 L457.1 627.7 L457.1 628.1 L461.1 628.1 L461.1 627.7 L461.3 626.2 L461.4 624.7 L461.6 623.2 L461.7 621.7 L461.9 620.2 L462.1 618.7 L462.3 617.2 L462.5 615.7 L462.7 614.2 L463.0 612.7 L463.2 611.2 L463.5 609.7 L463.8 608.2 L464.0 606.7 L464.3 605.2 L464.5 603.7 L464.8 602.2 L465.0 600.7 L465.2 599.2 L465.5 597.7 L465.7 596.2 L465.9 594.7 L466.1 593.2 L466.2 591.7 L466.4 590.2 L466.5 588.7 L466.7 587.2 L466.8 585.7 L466.9 584.2 L467.0 582.7 L467.1 581.2 L467.2 579.7 L467.3 578.2 L467.4 576.7 L467.4 575.2 L467.5 573.7 L467.6 572.2 L467.6 570.7 L467.7 569.2 L467.7 567.7 L467.8 566.2 L467.9 564.7 L467.9 563.2 L468.0 561.7 L468.1 560.2 L468.2 558.7 L468.3 557.2 L468.4 555.7 L468.5 554.2 L468.6 552.7 L468.7 551.2 L468.9 549.7 L469.0 548.2 L469.2 546.7 L469.4 545.2 L469.6 543.7 L469.8 542.2 L470.0 540.7 L470.2 539.2 L470.5 537.7 L470.7 536.2 L471.0 534.7 L471.2 533.2 L471.5 531.7 L471.8 530.2 L472.1 528.7 L472.3 527.2 L472.6 525.7 L473.0 524.2 L473.3 522.7 L473.6 521.2 L473.9 519.7 L474.2 518.2 L474.6 516.7 L474.9 515.2 L475.2 513.7 L475.6 512.2 L475.9 510.7 L476.3 509.2 L476.6 507.7 L477.0 506.2 L477.3 504.7 L477.7 503.2 L478.1 501.7 L478.4 500.2 L478.8 498.7 L479.2 497.2 L479.5 495.7 L479.9 494.2 L480.3 492.7 L480.7 491.2 L481.0 489.7 L481.4 488.2 L481.8 486.7 L482.2 485.2 L482.6 483.7 L482.9 482.2 L483.3 480.7 L483.7 479.2 L484.1 477.7 L484.4 476.2 L484.8 474.7 L485.2 473.2 L485.6 471.7 L485.9 470.2 L486.3 468.7 L486.7 467.2 L487.0 465.7 L487.4 464.2 L487.8 462.7 L488.1 461.2 L488.5 459.7 L488.9 458.2 L489.2 456.7 L489.6 455.2 L489.9 453.7 L490.2 452.2 L490.5 450.7 L490.8 449.2 L491.0 447.7 L491.3 446.2 L491.5 444.7 L491.6 443.2 L491.7 441.7 L491.8 440.2 L491.9 438.7 L491.8 437.2 L491.8 435.7 L491.7 434.2 L491.6 432.7 L491.4 431.2 L491.1 429.7 L490.8 428.2 L490.5 426.7 L490.1 425.2 L489.7 423.7 L489.2 422.2 L488.6 420.7 L488.0 419.2 L487.4 417.7 L486.7 416.2 L485.9 414.7 L485.1 413.2 L484.3 411.7 L483.4 410.2 L482.6 408.7 L481.7 407.2 L480.8 405.7 L479.8 404.2 L478.9 402.7 L477.9 401.2 L477.0 399.7 L476.0 398.2 L475.1 396.7 L474.1 395.2 L473.2 393.7 L472.3 392.2 L471.4 390.7 L470.6 389.2 L469.7 387.7 L468.9 386.2 L468.1 384.7 L467.4 383.2 L466.6 381.7 L466.0 380.2 L465.3 378.7 L464.8 377.2 L464.2 375.7 L463.7 374.2 L463.3 372.7 L463.0 371.2 L462.7 369.7 L462.4 368.2 Z" fill="#fff" fill-opacity="0.2" stroke="#2b2b2b" stroke-width="1.6" stroke-linejoin="round"/>
<circle cx="459.1" cy="472.9" r="5.9" fill="#8b0000"/>
<path d="M459.1 472.9H489.9" stroke="#000" stroke-width="1.3" fill="none"/>
<rect x="489.9" y="464.9" width="51.4" height="15.9" rx="2.2" fill="#fff" stroke="#262626" stroke-width="0.95"/>
<text x="493.3" y="475.9" font-size="8.4" fill="#000" stroke="#000" stroke-width="0.15">μ<tspan font-size="5.9" dx="0.4" dy="1.2">mean</tspan><tspan dx="-1" dy="-1.2"> = 0.80</tspan></text>
<text transform="translate(495.7 472.1) scale(2.15 0.8)" font-size="7" fill="#000" text-anchor="middle">^</text>
<g fill="url(#pt)">
<circle cx="590.8" cy="454.1" r="5.55"/>
<circle cx="608.7" cy="469.3" r="5.55"/>
<circle cx="608.9" cy="460.4" r="5.55"/>
<circle cx="596.9" cy="379.5" r="5.55"/>
<circle cx="609.7" cy="407.3" r="5.55"/>
<circle cx="609.4" cy="586.6" r="5.55"/>
<circle cx="597.7" cy="401.1" r="5.55"/>
<circle cx="599.2" cy="436.3" r="5.55"/>
<circle cx="590.9" cy="412.4" r="5.55"/>
<circle cx="593.0" cy="452.0" r="5.55"/>
<circle cx="596.9" cy="525.8" r="5.55"/>
<circle cx="604.8" cy="437.3" r="5.55"/>
<circle cx="591.2" cy="489.6" r="5.55"/>
<circle cx="608.1" cy="424.3" r="5.55"/>
<circle cx="592.1" cy="475.7" r="5.55"/>
<circle cx="587.2" cy="438.3" r="5.55"/>
<circle cx="588.3" cy="408.6" r="5.55"/>
<circle cx="603.2" cy="388.8" r="5.55"/>
<circle cx="603.8" cy="411.9" r="5.55"/>
<circle cx="596.6" cy="434.3" r="5.55"/>
<circle cx="603.6" cy="432.5" r="5.55"/>
<circle cx="594.1" cy="501.5" r="5.55"/>
<circle cx="604.3" cy="442.0" r="5.55"/>
<circle cx="587.1" cy="431.8" r="5.55"/>
<circle cx="592.9" cy="446.8" r="5.55"/>
<circle cx="602.0" cy="435.8" r="5.55"/>
<circle cx="591.2" cy="393.9" r="5.55"/>
<circle cx="585.9" cy="359.7" r="5.55"/>
<circle cx="610.5" cy="528.7" r="5.55"/>
<circle cx="612.8" cy="595.1" r="5.55"/>
<circle cx="598.9" cy="453.5" r="5.55"/>
<circle cx="603.5" cy="465.4" r="5.55"/>
<circle cx="605.6" cy="496.7" r="5.55"/>
<circle cx="604.2" cy="472.1" r="5.55"/>
<circle cx="602.4" cy="395.7" r="5.55"/>
<circle cx="609.3" cy="391.0" r="5.55"/>
<circle cx="594.9" cy="477.7" r="5.55"/>
<circle cx="603.8" cy="421.0" r="5.55"/>
<circle cx="601.7" cy="442.8" r="5.55"/>
<circle cx="598.2" cy="530.5" r="5.55"/>
<circle cx="592.7" cy="416.0" r="5.55"/>
<circle cx="613.6" cy="514.8" r="5.55"/>
<circle cx="605.2" cy="544.8" r="5.55"/>
<circle cx="595.9" cy="482.7" r="5.55"/>
<circle cx="613.7" cy="414.7" r="5.55"/>
<circle cx="587.3" cy="421.6" r="5.55"/>
<circle cx="602.9" cy="484.6" r="5.55"/>
<circle cx="604.1" cy="497.4" r="5.55"/>
<circle cx="586.5" cy="401.9" r="5.55"/>
<circle cx="613.7" cy="396.7" r="5.55"/>
<circle cx="601.3" cy="493.7" r="5.55"/>
<circle cx="610.1" cy="366.7" r="5.55"/>
<circle cx="607.3" cy="427.4" r="5.55"/>
<circle cx="599.8" cy="409.3" r="5.55"/>
<circle cx="588.8" cy="513.8" r="5.55"/>
<circle cx="586.7" cy="369.9" r="5.55"/>
<circle cx="611.6" cy="425.7" r="5.55"/>
<circle cx="599.9" cy="631.1" r="5.55"/>
<circle cx="593.6" cy="542.8" r="5.55"/>
<circle cx="599.5" cy="428.2" r="5.55"/>
<circle cx="605.5" cy="512.1" r="5.55"/>
<circle cx="611.2" cy="445.1" r="5.55"/>
<circle cx="595.4" cy="392.1" r="5.55"/>
<circle cx="596.1" cy="417.7" r="5.55"/>
<circle cx="589.4" cy="484.1" r="5.55"/>
<circle cx="597.2" cy="422.9" r="5.55"/>
<circle cx="607.8" cy="461.0" r="5.55"/>
<circle cx="606.7" cy="453.1" r="5.55"/>
<circle cx="595.7" cy="470.3" r="5.55"/>
<circle cx="611.6" cy="462.9" r="5.55"/>
<circle cx="604.3" cy="411.4" r="5.55"/>
<circle cx="589.1" cy="510.9" r="5.55"/>
<circle cx="606.7" cy="481.8" r="5.55"/>
<circle cx="590.6" cy="455.7" r="5.55"/>
<circle cx="597.7" cy="547.1" r="5.55"/>
<circle cx="599.5" cy="474.8" r="5.55"/>
<circle cx="595.5" cy="462.0" r="5.55"/>
<circle cx="607.4" cy="400.3" r="5.55"/>
<circle cx="591.4" cy="468.6" r="5.55"/>
<circle cx="613.7" cy="493.1" r="5.55"/>
<circle cx="607.4" cy="438.9" r="5.55"/>
<circle cx="585.6" cy="558.0" r="5.55"/>
<circle cx="588.2" cy="519.2" r="5.55"/>
<circle cx="600.2" cy="446.0" r="5.55"/>
<circle cx="608.1" cy="473.9" r="5.55"/>
<circle cx="586.5" cy="440.0" r="5.55"/>
<circle cx="600.8" cy="457.1" r="5.55"/>
<circle cx="603.4" cy="415.3" r="5.55"/>
<circle cx="598.5" cy="488.1" r="5.55"/>
<circle cx="613.7" cy="423.5" r="5.55"/>
<circle cx="590.6" cy="471.3" r="5.55"/>
<circle cx="603.1" cy="455.2" r="5.55"/>
<circle cx="593.5" cy="465.8" r="5.55"/>
<circle cx="600.4" cy="431.0" r="5.55"/>
<circle cx="591.5" cy="419.5" r="5.55"/>
<circle cx="606.1" cy="447.8" r="5.55"/>
<circle cx="611.9" cy="404.9" r="5.55"/>
<circle cx="608.4" cy="430.8" r="5.55"/>
<circle cx="591.3" cy="410.6" r="5.55"/>
<circle cx="613.1" cy="383.8" r="5.55"/>
<circle cx="605.8" cy="502.7" r="5.55"/>
<circle cx="598.3" cy="406.4" r="5.55"/>
<circle cx="592.5" cy="527.6" r="5.55"/>
<circle cx="589.1" cy="486.2" r="5.55"/>
<circle cx="596.2" cy="426.0" r="5.55"/>
<circle cx="612.0" cy="538.3" r="5.55"/>
<circle cx="602.4" cy="413.1" r="5.55"/>
<circle cx="598.4" cy="516.4" r="5.55"/>
<circle cx="587.0" cy="403.9" r="5.55"/>
<circle cx="600.9" cy="405.6" r="5.55"/>
<circle cx="613.2" cy="433.8" r="5.55"/>
<circle cx="605.8" cy="417.0" r="5.55"/>
<circle cx="609.1" cy="637.7" r="5.55"/>
<circle cx="591.9" cy="429.9" r="5.55"/>
<circle cx="593.3" cy="385.9" r="5.55"/>
<circle cx="606.1" cy="504.3" r="5.55"/>
<circle cx="598.8" cy="522.6" r="5.55"/>
<circle cx="608.3" cy="507.2" r="5.55"/>
<circle cx="586.5" cy="426.6" r="5.55"/>
<circle cx="609.6" cy="436.8" r="5.55"/>
<circle cx="611.8" cy="523.6" r="5.55"/>
<circle cx="604.2" cy="403.2" r="5.55"/>
<circle cx="587.9" cy="418.0" r="5.55"/>
<circle cx="612.8" cy="487.0" r="5.55"/>
<circle cx="603.9" cy="444.1" r="5.55"/>
<circle cx="609.3" cy="394.6" r="5.55"/>
<circle cx="591.0" cy="434.9" r="5.55"/>
<circle cx="606.2" cy="450.5" r="5.55"/>
<circle cx="590.7" cy="536.5" r="5.55"/>
<circle cx="591.4" cy="505.8" r="5.55"/>
<circle cx="607.6" cy="447.5" r="5.55"/>
<circle cx="586.5" cy="472.9" r="5.55"/>
<circle cx="607.9" cy="449.4" r="5.55"/>
<circle cx="608.1" cy="490.6" r="5.55"/>
<circle cx="592.1" cy="495.2" r="5.55"/>
<circle cx="598.1" cy="390.3" r="5.55"/>
<circle cx="605.1" cy="476.8" r="5.55"/>
<circle cx="592.9" cy="441.6" r="5.55"/>
<circle cx="608.3" cy="429.4" r="5.55"/>
<circle cx="598.5" cy="444.6" r="5.55"/>
<circle cx="595.1" cy="463.6" r="5.55"/>
<circle cx="591.4" cy="399.4" r="5.55"/>
<circle cx="604.6" cy="398.1" r="5.55"/>
<circle cx="609.6" cy="500.8" r="5.55"/>
<circle cx="601.9" cy="439.4" r="5.55"/>
<circle cx="594.0" cy="372.1" r="5.55"/>
<circle cx="587.0" cy="457.9" r="5.55"/>
<circle cx="610.1" cy="422.4" r="5.55"/>
<circle cx="586.5" cy="448.5" r="5.55"/>
<circle cx="613.7" cy="428.7" r="5.55"/>
<circle cx="607.5" cy="420.3" r="5.55"/>
<circle cx="607.1" cy="418.8" r="5.55"/>
<circle cx="602.4" cy="456.5" r="5.55"/>
<circle cx="605.0" cy="440.8" r="5.55"/>
<circle cx="590.3" cy="433.2" r="5.55"/>
<circle cx="596.5" cy="451.5" r="5.55"/>
<circle cx="610.5" cy="478.7" r="5.55"/>
<circle cx="602.5" cy="534.3" r="5.55"/>
<circle cx="607.6" cy="458.6" r="5.55"/>
<circle cx="588.2" cy="549.8" r="5.55"/>
<circle cx="611.6" cy="520.2" r="5.55"/>
<circle cx="602.4" cy="467.7" r="5.55"/>
<circle cx="590.4" cy="480.9" r="5.55"/>
<circle cx="591.9" cy="386.7" r="5.55"/>
<circle cx="588.9" cy="578.1" r="5.55"/>
<circle cx="586.5" cy="532.8" r="5.55"/>
<circle cx="597.7" cy="508.9" r="5.55"/>
<circle cx="591.7" cy="443.5" r="5.55"/>
<circle cx="587.1" cy="464.1" r="5.55"/>
<circle cx="595.3" cy="414.0" r="5.55"/>
<circle cx="604.1" cy="479.9" r="5.55"/>
<circle cx="595.6" cy="407.8" r="5.55"/>
<circle cx="596.9" cy="459.4" r="5.55"/>
<circle cx="608.2" cy="466.7" r="5.55"/>
<circle cx="594.6" cy="425.0" r="5.55"/>
<circle cx="603.4" cy="540.5" r="5.55"/>
<circle cx="601.8" cy="552.9" r="5.55"/>
<circle cx="600.2" cy="492.0" r="5.55"/>
<circle cx="590.0" cy="499.1" r="5.55"/>
<circle cx="598.3" cy="450.2" r="5.55"/>
</g>
<g stroke="#484848" stroke-width="1.65" fill="none">
<path d="M600.1 360.1V420.5M600.1 489.3V586.6" stroke="#303030" stroke-width="1.55"/>
<rect x="579" y="420.5" width="42.3" height="68.8" fill="#fff" fill-opacity="0.2"/>
<path d="M579 449.2H621.2" stroke-width="3.0"/>
</g>
<path d="M595.7 360.1 L595.5 361.6 L595.2 363.1 L594.9 364.6 L594.5 366.1 L594.1 367.6 L593.6 369.1 L593.1 370.6 L592.6 372.1 L592.0 373.6 L591.4 375.1 L590.7 376.6 L590.0 378.1 L589.3 379.6 L588.5 381.1 L587.7 382.6 L586.9 384.1 L586.1 385.6 L585.2 387.1 L584.3 388.6 L583.4 390.1 L582.5 391.6 L581.6 393.1 L580.7 394.6 L579.8 396.1 L578.8 397.6 L577.9 399.1 L576.9 400.6 L576.0 402.1 L575.1 403.6 L574.2 405.1 L573.3 406.6 L572.4 408.1 L571.6 409.6 L570.8 411.1 L570.0 412.6 L569.2 414.1 L568.5 415.6 L567.9 417.1 L567.3 418.6 L566.7 420.1 L566.2 421.6 L565.8 423.1 L565.5 424.6 L565.2 426.1 L564.9 427.6 L564.8 429.1 L564.7 430.6 L564.7 432.1 L564.7 433.6 L564.8 435.1 L564.9 436.6 L565.1 438.1 L565.3 439.6 L565.6 441.1 L565.9 442.6 L566.3 444.1 L566.7 445.6 L567.1 447.1 L567.5 448.6 L568.0 450.1 L568.5 451.6 L569.0 453.1 L569.5 454.6 L570.0 456.1 L570.5 457.6 L571.1 459.1 L571.6 460.6 L572.1 462.1 L572.7 463.6 L573.2 465.1 L573.7 466.6 L574.2 468.1 L574.7 469.6 L575.2 471.1 L575.6 472.6 L576.1 474.1 L576.5 475.6 L577.0 477.1 L577.4 478.6 L577.9 480.1 L578.3 481.6 L578.7 483.1 L579.2 484.6 L579.6 486.1 L580.0 487.6 L580.4 489.1 L580.8 490.6 L581.2 492.1 L581.6 493.6 L582.0 495.1 L582.4 496.6 L582.8 498.1 L583.2 499.6 L583.6 501.1 L584.0 502.6 L584.4 504.1 L584.7 505.6 L585.0 507.1 L585.4 508.6 L585.7 510.1 L585.9 511.6 L586.2 513.1 L586.4 514.6 L586.7 516.1 L586.8 517.6 L587.0 519.1 L587.2 520.6 L587.3 522.1 L587.4 523.6 L587.5 525.1 L587.6 526.6 L587.8 528.1 L587.9 529.6 L588.0 531.1 L588.2 532.6 L588.3 534.1 L588.5 535.6 L588.7 537.1 L589.0 538.6 L589.2 540.1 L589.5 541.6 L589.8 543.1 L590.1 544.6 L590.4 546.1 L590.8 547.6 L591.2 549.1 L591.6 550.6 L592.0 552.1 L592.4 553.6 L592.9 555.1 L593.3 556.6 L593.7 558.1 L594.1 559.6 L594.5 561.1 L594.9 562.6 L595.2 564.1 L595.5 565.6 L595.8 567.1 L596.1 568.6 L596.3 570.1 L596.6 571.6 L596.8 573.1 L597.0 574.6 L597.2 576.1 L597.3 577.6 L597.5 579.1 L597.6 580.6 L597.7 582.1 L597.8 583.6 L597.9 585.1 L597.9 586.6 L598.0 588.1 L598.1 589.6 L598.1 591.1 L598.1 592.6 L598.2 594.1 L598.2 595.6 L598.3 597.1 L598.3 598.6 L598.4 600.1 L598.4 601.6 L598.5 603.1 L598.6 604.6 L598.6 606.1 L598.7 607.6 L598.8 609.1 L598.9 610.6 L599.0 612.1 L599.0 613.6 L599.1 615.1 L599.1 616.6 L599.2 618.1 L599.2 619.6 L599.3 621.1 L599.3 622.6 L599.3 624.1 L599.3 625.6 L599.3 627.1 L599.3 628.6 L599.3 630.1 L599.3 631.6 L599.2 633.1 L599.2 634.6 L599.2 636.1 L599.1 637.6 L599.1 638.5 L601.1 638.5 L601.1 637.6 L601.0 636.1 L601.0 634.6 L601.0 633.1 L600.9 631.6 L600.9 630.1 L600.9 628.6 L600.9 627.1 L600.9 625.6 L600.9 624.1 L600.9 622.6 L600.9 621.1 L601.0 619.6 L601.0 618.1 L601.1 616.6 L601.1 615.1 L601.2 613.6 L601.2 612.1 L601.3 610.6 L601.4 609.1 L601.5 607.6 L601.6 606.1 L601.6 604.6 L601.7 603.1 L601.8 601.6 L601.8 600.1 L601.9 598.6 L601.9 597.1 L602.0 595.6 L602.0 594.1 L602.1 592.6 L602.1 591.1 L602.1 589.6 L602.2 588.1 L602.3 586.6 L602.3 585.1 L602.4 583.6 L602.5 582.1 L602.6 580.6 L602.7 579.1 L602.9 577.6 L603.0 576.1 L603.2 574.6 L603.4 573.1 L603.6 571.6 L603.9 570.1 L604.1 568.6 L604.4 567.1 L604.7 565.6 L605.0 564.1 L605.3 562.6 L605.7 561.1 L606.1 559.6 L606.5 558.1 L606.9 556.6 L607.3 555.1 L607.8 553.6 L608.2 552.1 L608.6 550.6 L609.0 549.1 L609.4 547.6 L609.8 546.1 L610.1 544.6 L610.4 543.1 L610.7 541.6 L611.0 540.1 L611.2 538.6 L611.5 537.1 L611.7 535.6 L611.9 534.1 L612.0 532.6 L612.2 531.1 L612.3 529.6 L612.4 528.1 L612.6 526.6 L612.7 525.1 L612.8 523.6 L612.9 522.1 L613.0 520.6 L613.2 519.1 L613.4 517.6 L613.5 516.1 L613.8 514.6 L614.0 513.1 L614.3 511.6 L614.5 510.1 L614.8 508.6 L615.2 507.1 L615.5 505.6 L615.8 504.1 L616.2 502.6 L616.6 501.1 L617.0 499.6 L617.4 498.1 L617.8 496.6 L618.2 495.1 L618.6 493.6 L619.0 492.1 L619.4 490.6 L619.8 489.1 L620.2 487.6 L620.6 486.1 L621.0 484.6 L621.5 483.1 L621.9 481.6 L622.3 480.1 L622.8 478.6 L623.2 477.1 L623.7 475.6 L624.1 474.1 L624.6 472.6 L625.0 471.1 L625.5 469.6 L626.0 468.1 L626.5 466.6 L627.0 465.1 L627.5 463.6 L628.1 462.1 L628.6 460.6 L629.1 459.1 L629.7 457.6 L630.2 456.1 L630.7 454.6 L631.2 453.1 L631.7 451.6 L632.2 450.1 L632.7 448.6 L633.1 447.1 L633.5 445.6 L633.9 444.1 L634.3 442.6 L634.6 441.1 L634.9 439.6 L635.1 438.1 L635.3 436.6 L635.4 435.1 L635.5 433.6 L635.5 432.1 L635.5 430.6 L635.4 429.1 L635.3 427.6 L635.0 426.1 L634.7 424.6 L634.4 423.1 L634.0 421.6 L633.5 420.1 L632.9 418.6 L632.3 417.1 L631.7 415.6 L631.0 414.1 L630.2 412.6 L629.4 411.1 L628.6 409.6 L627.8 408.1 L626.9 406.6 L626.0 405.1 L625.1 403.6 L624.2 402.1 L623.3 400.6 L622.3 399.1 L621.4 397.6 L620.4 396.1 L619.5 394.6 L618.6 393.1 L617.7 391.6 L616.8 390.1 L615.9 388.6 L615.0 387.1 L614.1 385.6 L613.3 384.1 L612.5 382.6 L611.7 381.1 L610.9 379.6 L610.2 378.1 L609.5 376.6 L608.8 375.1 L608.2 373.6 L607.6 372.1 L607.1 370.6 L606.6 369.1 L606.1 367.6 L605.7 366.1 L605.3 364.6 L605.0 363.1 L604.7 361.6 L604.5 360.1 Z" fill="#fff" fill-opacity="0.2" stroke="#2b2b2b" stroke-width="1.6" stroke-linejoin="round"/>
<circle cx="600.1" cy="457.7" r="5.9" fill="#8b0000"/>
<path d="M600.1 457.7H630.6" stroke="#000" stroke-width="1.3" fill="none"/>
<rect x="630.6" y="449.8" width="51.4" height="15.9" rx="2.2" fill="#fff" stroke="#262626" stroke-width="0.95"/>
<text x="634" y="460.7" font-size="8.4" fill="#000" stroke="#000" stroke-width="0.15">μ<tspan font-size="5.9" dx="0.4" dy="1.2">mean</tspan><tspan dx="-1" dy="-1.2"> = 0.82</tspan></text>
<text transform="translate(636.4 456.9) scale(2.15 0.8)" font-size="7" fill="#000" text-anchor="middle">^</text>
</g>
</svg>
</body></html>
